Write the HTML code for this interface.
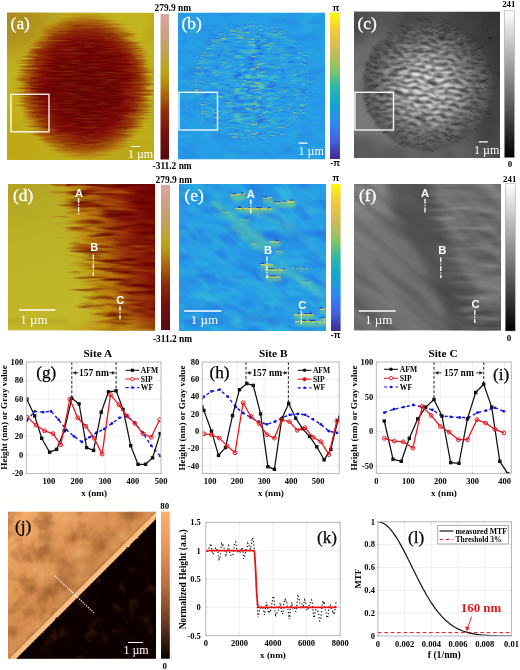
<!DOCTYPE html>
<html><head><meta charset="utf-8"><title>Figure</title>
<style>html,body{margin:0;padding:0;background:#fff}svg{display:block}</style>
</head><body>
<svg width="520" height="670" viewBox="0 0 520 670" font-family='"Liberation Serif", serif'>
<rect width="520" height="670" fill="#fff"/>
<defs>
<linearGradient id="cbAFM" x1="0" y1="0" x2="0" y2="1"><stop offset="0" stop-color="#dba79e"/><stop offset="0.14" stop-color="#cba084"/><stop offset="0.28" stop-color="#c2a052"/><stop offset="0.4" stop-color="#bba51a"/><stop offset="0.48" stop-color="#b48a12"/><stop offset="0.57" stop-color="#a85e0f"/><stop offset="0.68" stop-color="#8e2c0e"/><stop offset="0.82" stop-color="#74120f"/><stop offset="1" stop-color="#560a10"/></linearGradient>
<linearGradient id="cbPar" x1="0" y1="0" x2="0" y2="1"><stop offset="0" stop-color="#f9fb0e"/><stop offset="0.12" stop-color="#f5c93a"/><stop offset="0.25" stop-color="#d1ba58"/><stop offset="0.38" stop-color="#8cc566"/><stop offset="0.5" stop-color="#33b7a0"/><stop offset="0.62" stop-color="#12a7cf"/><stop offset="0.75" stop-color="#2e8af0"/><stop offset="0.88" stop-color="#4660e0"/><stop offset="1" stop-color="#3a2a90"/></linearGradient>
<linearGradient id="cbGray" x1="0" y1="0" x2="0" y2="1"><stop offset="0" stop-color="#ffffff"/><stop offset="1" stop-color="#000000"/></linearGradient>
<linearGradient id="cbCop" x1="0" y1="0" x2="0" y2="1"><stop offset="0" stop-color="#ffb070"/><stop offset="0.25" stop-color="#e8945c"/><stop offset="0.5" stop-color="#b87040"/><stop offset="0.75" stop-color="#6a3c20"/><stop offset="1" stop-color="#050201"/></linearGradient>
<clipPath id="cpa"><rect x="7" y="12.5" width="147" height="147.5"/></clipPath>
<clipPath id="cpb"><rect x="178" y="12.5" width="147" height="147"/></clipPath>
<clipPath id="cpc"><rect x="354" y="11.5" width="146" height="146.5"/></clipPath>
<clipPath id="cpd"><rect x="8" y="184" width="147" height="146.6"/></clipPath>
<clipPath id="cpe"><rect x="179" y="184" width="147" height="147"/></clipPath>
<clipPath id="cpf"><rect x="354" y="184" width="147" height="146.6"/></clipPath>
<clipPath id="cpj"><rect x="8" y="511.5" width="148" height="147.2"/></clipPath>
<linearGradient id="gaBase" x1="0" y1="0" x2="0.5" y2="1"><stop offset="0" stop-color="#b09018"/><stop offset="0.3" stop-color="#b7a214"/><stop offset="1" stop-color="#bcaa12"/></linearGradient>
<radialGradient id="gaCirc" cx="85.5" cy="86.5" r="77" gradientUnits="userSpaceOnUse" gradientTransform="translate(85.5 86.5) scale(0.93 1) translate(-85.5 -86.5)"><stop offset="0" stop-color="#690303"/><stop offset="0.5" stop-color="#720505"/><stop offset="0.64" stop-color="#820d07"/><stop offset="0.76" stop-color="#973509"/><stop offset="0.86" stop-color="#ab680f"/><stop offset="0.93" stop-color="#b89216" stop-opacity="0.75"/><stop offset="1" stop-color="#c2b41e" stop-opacity="0"/></radialGradient>
<filter id="fStreak" x="-15%" y="-15%" width="130%" height="130%" color-interpolation-filters="sRGB">
<feTurbulence type="fractalNoise" baseFrequency="0.035 0.5" numOctaves="2" seed="3" result="n"/>
<feColorMatrix in="n" type="matrix" values="1 0 0 0 0  0 0 0 0 0.5  0 0 0 0 0.5  0 0 0 1 0" result="nx"/>
<feDisplacementMap in="SourceGraphic" in2="nx" scale="22" xChannelSelector="R" yChannelSelector="G"/>
</filter>
<filter id="fStreakD" x="-15%" y="-15%" width="130%" height="130%" color-interpolation-filters="sRGB">
<feTurbulence type="fractalNoise" baseFrequency="0.018 0.22" numOctaves="2" seed="8" result="n"/>
<feColorMatrix in="n" type="matrix" values="1 0 0 0 0  0 0 0 0 0.5  0 0 0 0 0.5  0 0 0 1 0" result="nx"/>
<feDisplacementMap in="SourceGraphic" in2="nx" scale="46" xChannelSelector="R" yChannelSelector="G"/>
</filter>
<filter id="fStreakC" x="-15%" y="-15%" width="130%" height="130%" color-interpolation-filters="sRGB">
<feTurbulence type="fractalNoise" baseFrequency="0.05 0.3" numOctaves="2" seed="5" result="n"/>
<feColorMatrix in="n" type="matrix" values="1 0 0 0 0  0 0 0 0 0.5  0 0 0 0 0.5  0 0 0 1 0" result="nx"/>
<feDisplacementMap in="SourceGraphic" in2="nx" scale="8" xChannelSelector="R" yChannelSelector="G"/>
</filter>
<filter id="fTexA" x="0" y="0" width="100%" height="100%" color-interpolation-filters="sRGB">
<feTurbulence type="fractalNoise" baseFrequency="0.05 0.55" numOctaves="2" seed="11" result="n"/>
<feColorMatrix in="n" type="matrix" values="0 0 0 0 0.3  0 0 0 0 0.03  0 0 0 0 0.02  3.0 0 0 0 -1.3" result="t"/>
<feComposite in="t" in2="SourceGraphic" operator="in"/>
</filter>
<filter id="fTexA2" x="0" y="0" width="100%" height="100%" color-interpolation-filters="sRGB">
<feTurbulence type="fractalNoise" baseFrequency="0.05 0.55" numOctaves="2" seed="23" result="n"/>
<feColorMatrix in="n" type="matrix" values="0 0 0 0 0.78  0 0 0 0 0.5  0 0 0 0 0.08  3.0 0 0 0 -1.45" result="t"/>
<feComposite in="t" in2="SourceGraphic" operator="in"/>
</filter>
<filter id="fTexBg" x="0" y="0" width="100%" height="100%" color-interpolation-filters="sRGB">
<feTurbulence type="fractalNoise" baseFrequency="0.02 0.02" numOctaves="2" seed="4" result="n"/>
<feColorMatrix in="n" type="matrix" values="0 0 0 0 0.55  0 0 0 0 0.4  0 0 0 0 0.05  2.2 0 0 0 -1.0" result="t"/>
<feComposite in="t" in2="SourceGraphic" operator="in"/>
</filter>
<filter id="fTexCd" x="0" y="0" width="100%" height="100%" color-interpolation-filters="sRGB">
<feTurbulence type="fractalNoise" baseFrequency="0.1 0.34" numOctaves="2" seed="31" result="n"/>
<feColorMatrix in="n" type="matrix" values="0 0 0 0 0.12  0 0 0 0 0.12  0 0 0 0 0.12  5.5 0 0 0 -2.6" result="t"/>
<feComposite in="t" in2="SourceGraphic" operator="in"/>
</filter>
<filter id="fTexCl" x="0" y="0" width="100%" height="100%" color-interpolation-filters="sRGB">
<feTurbulence type="fractalNoise" baseFrequency="0.1 0.34" numOctaves="2" seed="31" result="n"/>
<feColorMatrix in="n" type="matrix" values="0 0 0 0 0.93  0 0 0 0 0.93  0 0 0 0 0.93  -5.5 0 0 0 2.35" result="t"/>
<feComposite in="t" in2="SourceGraphic" operator="in"/>
</filter>
<filter id="fTexCbg" x="0" y="0" width="100%" height="100%" color-interpolation-filters="sRGB">
<feTurbulence type="fractalNoise" baseFrequency="0.03 0.03" numOctaves="2" seed="9" result="n"/>
<feColorMatrix in="n" type="matrix" values="0 0 0 0 0.1  0 0 0 0 0.1  0 0 0 0 0.1  2.0 0 0 0 -0.9" result="t"/>
<feComposite in="t" in2="SourceGraphic" operator="in"/>
</filter>
<filter id="fTexD" x="0" y="0" width="100%" height="100%" color-interpolation-filters="sRGB">
<feTurbulence type="fractalNoise" baseFrequency="0.03 0.24" numOctaves="2" seed="17" result="n"/>
<feColorMatrix in="n" type="matrix" values="0 0 0 0 0.38  0 0 0 0 0.02  0 0 0 0 0.02  3.6 0 0 0 -1.6" result="t"/>
<feComposite in="t" in2="SourceGraphic" operator="in"/>
</filter>
<filter id="fTexD2" x="0" y="0" width="100%" height="100%" color-interpolation-filters="sRGB">
<feTurbulence type="fractalNoise" baseFrequency="0.03 0.24" numOctaves="2" seed="29" result="n"/>
<feColorMatrix in="n" type="matrix" values="0 0 0 0 0.78  0 0 0 0 0.48  0 0 0 0 0.06  3.6 0 0 0 -1.8" result="t"/>
<feComposite in="t" in2="SourceGraphic" operator="in"/>
</filter>
<filter id="fTexD3" x="0" y="0" width="100%" height="100%" color-interpolation-filters="sRGB">
<feTurbulence type="fractalNoise" baseFrequency="0.03 0.24" numOctaves="2" seed="53" result="n"/>
<feColorMatrix in="n" type="matrix" values="0 0 0 0 0.52  0 0 0 0 0.12  0 0 0 0 0.03  3.6 0 0 0 -1.7" result="t"/>
<feComposite in="t" in2="SourceGraphic" operator="in"/>
</filter>
<filter id="fTexFd" x="0" y="0" width="100%" height="100%" color-interpolation-filters="sRGB">
<feTurbulence type="fractalNoise" baseFrequency="0.012 0.07" numOctaves="2" seed="13" result="n"/>
<feColorMatrix in="n" type="matrix" values="0 0 0 0 0.22  0 0 0 0 0.22  0 0 0 0 0.22  3.2 0 0 0 -1.45" result="t"/>
<feComposite in="t" in2="SourceGraphic" operator="in"/>
</filter>
<filter id="fTexFl" x="0" y="0" width="100%" height="100%" color-interpolation-filters="sRGB">
<feTurbulence type="fractalNoise" baseFrequency="0.012 0.07" numOctaves="2" seed="13" result="n"/>
<feColorMatrix in="n" type="matrix" values="0 0 0 0 0.72  0 0 0 0 0.72  0 0 0 0 0.72  -3.2 0 0 0 1.3" result="t"/>
<feComposite in="t" in2="SourceGraphic" operator="in"/>
</filter>
<filter id="fTexFh" x="0" y="0" width="100%" height="100%" color-interpolation-filters="sRGB">
<feTurbulence type="fractalNoise" baseFrequency="0.02 0.13" numOctaves="2" seed="27" result="n"/>
<feColorMatrix in="n" type="matrix" values="0 0 0 0 0.68  0 0 0 0 0.68  0 0 0 0 0.68  3.4 0 0 0 -1.55" result="t"/>
<feComposite in="t" in2="SourceGraphic" operator="in"/>
</filter>
<filter id="fTexFhd" x="0" y="0" width="100%" height="100%" color-interpolation-filters="sRGB">
<feTurbulence type="fractalNoise" baseFrequency="0.02 0.13" numOctaves="2" seed="27" result="n"/>
<feColorMatrix in="n" type="matrix" values="0 0 0 0 0.18  0 0 0 0 0.18  0 0 0 0 0.18  -3.4 0 0 0 1.4" result="t"/>
<feComposite in="t" in2="SourceGraphic" operator="in"/>
</filter>
<filter id="fTexE" x="0" y="0" width="100%" height="100%" color-interpolation-filters="sRGB">
<feTurbulence type="fractalNoise" baseFrequency="0.025 0.07" numOctaves="2" seed="6" result="n"/>
<feColorMatrix in="n" type="matrix" values="0 0 0 0 0.25  0 0 0 0 0.82  0 0 0 0 0.82  3.0 0 0 0 -1.45" result="t"/>
<feComposite in="t" in2="SourceGraphic" operator="in"/>
</filter>
<filter id="fTexEd" x="0" y="0" width="100%" height="100%" color-interpolation-filters="sRGB">
<feTurbulence type="fractalNoise" baseFrequency="0.025 0.07" numOctaves="2" seed="19" result="n"/>
<feColorMatrix in="n" type="matrix" values="0 0 0 0 0.14  0 0 0 0 0.36  0 0 0 0 0.88  3.0 0 0 0 -1.45" result="t"/>
<feComposite in="t" in2="SourceGraphic" operator="in"/>
</filter>
<filter id="fTexB1" x="0" y="0" width="100%" height="100%" color-interpolation-filters="sRGB">
<feTurbulence type="fractalNoise" baseFrequency="0.05 0.12" numOctaves="2" seed="61" result="n"/>
<feColorMatrix in="n" type="matrix" values="0 0 0 0 0.25  0 0 0 0 0.8  0 0 0 0 0.82  3.0 0 0 0 -1.5" result="t"/>
<feComposite in="t" in2="SourceGraphic" operator="in"/>
</filter>
<filter id="fTexB2" x="0" y="0" width="100%" height="100%" color-interpolation-filters="sRGB">
<feTurbulence type="fractalNoise" baseFrequency="0.05 0.12" numOctaves="2" seed="67" result="n"/>
<feColorMatrix in="n" type="matrix" values="0 0 0 0 0.16  0 0 0 0 0.4  0 0 0 0 0.9  3.0 0 0 0 -1.5" result="t"/>
<feComposite in="t" in2="SourceGraphic" operator="in"/>
</filter>
<filter id="fTexBl" x="0" y="0" width="100%" height="100%" color-interpolation-filters="sRGB">
<feTurbulence type="fractalNoise" baseFrequency="0.09 0.28" numOctaves="2" seed="41" result="n"/>
<feColorMatrix in="n" type="matrix" values="0 0 0 0 0.45  0 0 0 0 0.85  0 0 0 0 0.55  4.0 0 0 0 -2.1" result="t"/>
<feComposite in="t" in2="SourceGraphic" operator="in"/>
</filter>
<filter id="fTexBd" x="0" y="0" width="100%" height="100%" color-interpolation-filters="sRGB">
<feTurbulence type="fractalNoise" baseFrequency="0.09 0.28" numOctaves="2" seed="41" result="n"/>
<feColorMatrix in="n" type="matrix" values="0 0 0 0 0.18  0 0 0 0 0.32  0 0 0 0 0.88  -4.0 0 0 0 1.55" result="t"/>
<feComposite in="t" in2="SourceGraphic" operator="in"/>
</filter>
<filter id="fTexJd" x="0" y="0" width="100%" height="100%" color-interpolation-filters="sRGB">
<feTurbulence type="fractalNoise" baseFrequency="0.055 0.055" numOctaves="3" seed="2" result="n"/>
<feColorMatrix in="n" type="matrix" values="0 0 0 0 0.5  0 0 0 0 0.26  0 0 0 0 0.1  2.8 0 0 0 -1.25" result="t"/>
<feComposite in="t" in2="SourceGraphic" operator="in"/>
</filter>
<filter id="fTexJl" x="0" y="0" width="100%" height="100%" color-interpolation-filters="sRGB">
<feTurbulence type="fractalNoise" baseFrequency="0.055 0.055" numOctaves="3" seed="2" result="n"/>
<feColorMatrix in="n" type="matrix" values="0 0 0 0 1.0  0 0 0 0 0.8  0 0 0 0 0.58  -2.8 0 0 0 1.1" result="t"/>
<feComposite in="t" in2="SourceGraphic" operator="in"/>
</filter>
<filter id="fTexJk" x="0" y="0" width="100%" height="100%" color-interpolation-filters="sRGB">
<feTurbulence type="fractalNoise" baseFrequency="0.07 0.07" numOctaves="3" seed="14" result="n"/>
<feColorMatrix in="n" type="matrix" values="0 0 0 0 0.36  0 0 0 0 0.18  0 0 0 0 0.08  3.2 0 0 0 -1.75" result="t"/>
<feComposite in="t" in2="SourceGraphic" operator="in"/>
</filter>
<filter id="bl0_5" x="-30%" y="-30%" width="160%" height="160%"><feGaussianBlur stdDeviation="0.5"/></filter>
<filter id="bl0_7" x="-30%" y="-30%" width="160%" height="160%"><feGaussianBlur stdDeviation="0.7"/></filter>
<filter id="bl1" x="-30%" y="-30%" width="160%" height="160%"><feGaussianBlur stdDeviation="1"/></filter>
<filter id="bl1_5" x="-30%" y="-30%" width="160%" height="160%"><feGaussianBlur stdDeviation="1.5"/></filter>
<filter id="bl2" x="-30%" y="-30%" width="160%" height="160%"><feGaussianBlur stdDeviation="2"/></filter>
<filter id="bl3" x="-30%" y="-30%" width="160%" height="160%"><feGaussianBlur stdDeviation="3"/></filter>
<filter id="bl4" x="-30%" y="-30%" width="160%" height="160%"><feGaussianBlur stdDeviation="4"/></filter>
<filter id="bl6" x="-30%" y="-30%" width="160%" height="160%"><feGaussianBlur stdDeviation="6"/></filter>
<filter id="bl8" x="-30%" y="-30%" width="160%" height="160%"><feGaussianBlur stdDeviation="8"/></filter>
<filter id="bl12" x="-30%" y="-30%" width="160%" height="160%"><feGaussianBlur stdDeviation="12"/></filter>
<linearGradient id="gcBase" x1="0" y1="0.6" x2="1" y2="0.1"><stop offset="0" stop-color="#787878"/><stop offset="0.3" stop-color="#6c6c6c"/><stop offset="0.6" stop-color="#525252"/><stop offset="1" stop-color="#343434"/></linearGradient>
<radialGradient id="gcCirc" cx="427" cy="86" r="66" gradientUnits="userSpaceOnUse"><stop offset="0" stop-color="#acacac"/><stop offset="0.35" stop-color="#9c9c9c"/><stop offset="0.62" stop-color="#848484"/><stop offset="0.85" stop-color="#6c6c6c"/><stop offset="0.95" stop-color="#525252"/><stop offset="1" stop-color="#484848" stop-opacity="0.0"/></radialGradient>
<linearGradient id="gdBase" x1="0" y1="0" x2="0.3" y2="1"><stop offset="0" stop-color="#b2a324"/><stop offset="0.4" stop-color="#bcb226"/><stop offset="1" stop-color="#c3b828"/></linearGradient>
<linearGradient id="gdGrad" gradientUnits="userSpaceOnUse" x1="66" y1="257" x2="166" y2="229"><stop offset="0" stop-color="#bcb226" stop-opacity="0"/><stop offset="0.18" stop-color="#bd9e16"/><stop offset="0.36" stop-color="#b4740f"/><stop offset="0.54" stop-color="#9a380b"/><stop offset="0.72" stop-color="#841507"/><stop offset="1" stop-color="#740906"/></linearGradient>
<linearGradient id="gdDark" x1="0" y1="0" x2="1" y2="0"><stop offset="0" stop-color="#b2700f"/><stop offset="0.18" stop-color="#a5500d"/><stop offset="0.45" stop-color="#93300c"/><stop offset="0.8" stop-color="#84200b"/><stop offset="1" stop-color="#7e1a0a"/></linearGradient>
<linearGradient id="gdDarkV" x1="0" y1="0" x2="0" y2="1"><stop offset="0" stop-color="#7a1508" stop-opacity="0.35"/><stop offset="0.5" stop-color="#7a1508" stop-opacity="0.0"/><stop offset="1" stop-color="#c08a14" stop-opacity="0.55"/></linearGradient>
<linearGradient id="gfBase" x1="0" y1="0" x2="1" y2="0.4"><stop offset="0" stop-color="#7c7c7c"/><stop offset="0.5" stop-color="#727272"/><stop offset="1" stop-color="#6a6a6a"/></linearGradient>
<linearGradient id="gjCop" x1="0" y1="0" x2="0.7" y2="0.7"><stop offset="0" stop-color="#f4aa6a"/><stop offset="0.3" stop-color="#e69e5e"/><stop offset="0.6" stop-color="#d48c4e"/><stop offset="1" stop-color="#e09a5a"/></linearGradient>
<filter id="fRough" x="-5%" y="-5%" width="110%" height="110%"><feTurbulence type="fractalNoise" baseFrequency="0.12" numOctaves="2" seed="4" result="n"/><feDisplacementMap in="SourceGraphic" in2="n" scale="2.2" xChannelSelector="R" yChannelSelector="G"/></filter>
<pattern id="pRipD" patternUnits="userSpaceOnUse" width="13" height="11.2" patternTransform="rotate(9 428 84)"><ellipse cx="3.5" cy="1.6" rx="5.6" ry="1.2" fill="#141414"/><ellipse cx="16.5" cy="1.6" rx="5.6" ry="1.2" fill="#141414"/><ellipse cx="-9.5" cy="1.6" rx="5.6" ry="1.2" fill="#141414"/><ellipse cx="10" cy="7.2" rx="5.6" ry="1.2" fill="#141414"/><ellipse cx="-3" cy="7.2" rx="5.6" ry="1.2" fill="#141414"/><ellipse cx="23" cy="7.2" rx="5.6" ry="1.2" fill="#141414"/></pattern>
<pattern id="pRipL" patternUnits="userSpaceOnUse" width="13" height="11.2" patternTransform="rotate(9 428 84)"><ellipse cx="4.3" cy="4.2" rx="5" ry="1.5" fill="#f4f4f4"/><ellipse cx="17.3" cy="4.2" rx="5" ry="1.5" fill="#f4f4f4"/><ellipse cx="-8.7" cy="4.2" rx="5" ry="1.5" fill="#f4f4f4"/><ellipse cx="10.8" cy="9.8" rx="5" ry="1.5" fill="#f4f4f4"/><ellipse cx="-2.2" cy="9.8" rx="5" ry="1.5" fill="#f4f4f4"/><ellipse cx="23.8" cy="9.8" rx="5" ry="1.5" fill="#f4f4f4"/></pattern>
<radialGradient id="gcMaskL" cx="426" cy="88" r="52" gradientUnits="userSpaceOnUse"><stop offset="0" stop-color="#fff" stop-opacity="0.95"/><stop offset="0.4" stop-color="#fff" stop-opacity="0.8"/><stop offset="0.7" stop-color="#fff" stop-opacity="0.35"/><stop offset="1" stop-color="#fff" stop-opacity="0"/></radialGradient>
<mask id="mRipL" maskUnits="userSpaceOnUse" x="354" y="11" width="147" height="148"><circle cx="426" cy="88" r="52" fill="url(#gcMaskL)"/></mask>
<radialGradient id="gcMask" cx="428.5" cy="84.5" r="62" gradientUnits="userSpaceOnUse"><stop offset="0" stop-color="#fff" stop-opacity="0.7"/><stop offset="0.45" stop-color="#fff" stop-opacity="0.68"/><stop offset="0.8" stop-color="#fff" stop-opacity="0.6"/><stop offset="0.95" stop-color="#fff" stop-opacity="0.3"/><stop offset="1" stop-color="#fff" stop-opacity="0"/></radialGradient>
<mask id="mRip" maskUnits="userSpaceOnUse" x="354" y="11" width="147" height="148"><circle cx="428.5" cy="84.5" r="62" fill="url(#gcMask)"/></mask>
<filter id="fWob" x="-10%" y="-10%" width="120%" height="120%" color-interpolation-filters="sRGB">
<feTurbulence type="fractalNoise" baseFrequency="0.045 0.06" numOctaves="2" seed="12" result="n"/>
<feDisplacementMap in="SourceGraphic" in2="n" scale="12" xChannelSelector="R" yChannelSelector="G" result="d"/>
<feGaussianBlur in="d" stdDeviation="0.85"/>
</filter>
</defs>
<g clip-path="url(#cpa)">
<rect x="7" y="12.5" width="147" height="147.5" fill="#c2b41e"/>
<ellipse cx="14" cy="22" rx="46" ry="34" fill="#ab8420" opacity="0.65" filter="url(#bl12)"/>
<ellipse cx="10" cy="150" rx="40" ry="30" fill="#bc9c10" opacity="0.55" filter="url(#bl12)"/>
<ellipse cx="150" cy="150" rx="30" ry="24" fill="#b8a216" opacity="0.4" filter="url(#bl12)"/>
<rect x="7" y="12.5" width="147" height="147.5" fill="#000" filter="url(#fTexBg)" opacity="0.25"/>
<g filter="url(#fStreak)"><ellipse cx="85.5" cy="86.5" rx="72" ry="77" fill="url(#gaCirc)"/></g>
<ellipse cx="85.5" cy="86.5" rx="56" ry="63" fill="#000" filter="url(#fTexA)" opacity="0.3"/>
<g filter="url(#fStreak)"><ellipse cx="85.5" cy="86.5" rx="63" ry="68" fill="#000" filter="url(#fTexA2)" opacity="0.25"/></g>
</g>
<g clip-path="url(#cpb)">
<rect x="178" y="12.5" width="147" height="147" fill="#269de6"/>
<rect x="178" y="12.5" width="147" height="147" fill="#000" filter="url(#fTexB1)" opacity="0.28"/>
<rect x="178" y="12.5" width="147" height="147" fill="#000" filter="url(#fTexB2)" opacity="0.30"/>
<g filter="url(#fTexBl)" opacity="0.35"><circle cx="252" cy="82" r="56" fill="#000" filter="url(#bl3)"/></g>
<g filter="url(#fTexBd)" opacity="0.6"><circle cx="252" cy="82" r="56" fill="#000" filter="url(#bl3)"/></g>
<g filter="url(#fTexBl)" opacity="0.45"><ellipse cx="252" cy="84" rx="22" ry="52" fill="#000" filter="url(#bl6)"/></g>
<g filter="url(#fTexBd)" opacity="0.55"><ellipse cx="252" cy="84" rx="24" ry="52" fill="#000" filter="url(#bl6)"/></g>
<circle cx="252" cy="82" r="58" fill="none" stroke="#2f7fe0" stroke-width="1.4" opacity="0.45" filter="url(#bl0_7)" stroke-dasharray="5 2 3 3 7 2"/>
<circle cx="252" cy="82" r="56.5" fill="none" stroke="#45b8d4" stroke-width="1.1" opacity="0.45" filter="url(#bl0_7)" stroke-dasharray="4 3 6 2 3 4"/>
<g stroke-linecap="round" filter="url(#bl0_5)"><path d="M243.6 80.6l2.8 0.1" stroke="#7fd08a" stroke-width="1.0" opacity="0.77"/><path d="M243.7 79.3l2.8 0.1" stroke="#2f6be2" stroke-width="1.1" opacity="0.69"/><path d="M230.9 33.9l4.8 -0.5" stroke="#8fd06a" stroke-width="1.2" opacity="0.49"/><path d="M231.9 32.6l4.8 -0.5" stroke="#3656d6" stroke-width="1.2" opacity="0.44"/><path d="M243.1 39.2l5.3 -0.6" stroke="#8fd06a" stroke-width="1.0" opacity="0.63"/><path d="M243.9 37.9l4.7 -0.6" stroke="#2d7ce6" stroke-width="1.3" opacity="0.57"/><path d="M268.5 43.2l4.3 0.1" stroke="#8fd06a" stroke-width="1.4" opacity="0.60"/><path d="M267.9 41.9l4.7 0.1" stroke="#2d7ce6" stroke-width="1.3" opacity="0.54"/><path d="M261.0 109.2l2.4 0.1" stroke="#62d0b2" stroke-width="1.1" opacity="0.67"/><path d="M260.3 107.9l2.2 0.1" stroke="#3656d6" stroke-width="1.1" opacity="0.60"/><path d="M212.9 70.1l2.1 -0.0" stroke="#4cc4d6" stroke-width="0.9" opacity="0.33"/><path d="M212.0 68.8l2.0 -0.0" stroke="#2d7ce6" stroke-width="1.0" opacity="0.30"/><path d="M258.3 97.0l2.6 -0.4" stroke="#c8d248" stroke-width="1.1" opacity="0.60"/><path d="M258.5 95.7l2.2 -0.4" stroke="#2f6be2" stroke-width="1.0" opacity="0.54"/><path d="M215.5 74.9l2.6 -0.2" stroke="#5fd0b0" stroke-width="1.5" opacity="0.31"/><path d="M215.3 73.6l2.8 -0.2" stroke="#2d7ce6" stroke-width="1.2" opacity="0.28"/><path d="M251.0 68.8l2.9 -0.6" stroke="#8fd06a" stroke-width="1.2" opacity="0.85"/><path d="M250.8 67.5l2.9 -0.6" stroke="#2f6be2" stroke-width="1.3" opacity="0.77"/><path d="M286.2 55.4l3.0 -0.6" stroke="#8fd06a" stroke-width="1.4" opacity="0.43"/><path d="M286.4 54.1l2.3 -0.6" stroke="#2f6be2" stroke-width="1.3" opacity="0.39"/><path d="M251.4 85.9l4.6 -0.6" stroke="#c8d248" stroke-width="1.4" opacity="0.60"/><path d="M252.2 84.6l4.3 -0.6" stroke="#3656d6" stroke-width="1.1" opacity="0.54"/><path d="M249.4 41.8l4.1 -0.0" stroke="#4cc4d6" stroke-width="1.3" opacity="0.62"/><path d="M250.3 40.5l2.9 -0.0" stroke="#2d7ce6" stroke-width="1.1" opacity="0.56"/><path d="M241.1 118.6l2.5 -0.4" stroke="#62d0b2" stroke-width="0.9" opacity="0.55"/><path d="M241.0 117.3l1.9 -0.4" stroke="#2f6be2" stroke-width="1.2" opacity="0.49"/><path d="M227.6 87.4l3.1 -0.6" stroke="#62d0b2" stroke-width="1.0" opacity="0.54"/><path d="M228.3 86.1l2.4 -0.6" stroke="#2d7ce6" stroke-width="1.2" opacity="0.49"/><path d="M244.1 114.3l4.8 -0.3" stroke="#8fd06a" stroke-width="1.1" opacity="0.53"/><path d="M244.2 113.0l5.0 -0.3" stroke="#2f6be2" stroke-width="1.0" opacity="0.48"/><path d="M231.1 30.8l3.4 0.2" stroke="#c8d248" stroke-width="1.4" opacity="0.51"/><path d="M231.7 29.5l3.0 0.2" stroke="#2d7ce6" stroke-width="0.9" opacity="0.46"/><path d="M252.9 109.7l5.4 -0.0" stroke="#7fd08a" stroke-width="1.4" opacity="0.69"/><path d="M252.3 108.4l5.1 -0.0" stroke="#3656d6" stroke-width="1.4" opacity="0.62"/><path d="M220.4 62.3l5.5 -0.7" stroke="#8fd06a" stroke-width="1.3" opacity="0.36"/><path d="M221.0 61.0l6.0 -0.7" stroke="#2d7ce6" stroke-width="1.2" opacity="0.33"/><path d="M241.4 85.0l3.4 -0.6" stroke="#8fd06a" stroke-width="1.3" opacity="0.63"/><path d="M240.5 83.7l2.7 -0.6" stroke="#2d7ce6" stroke-width="1.3" opacity="0.57"/><path d="M247.1 53.0l3.3 -0.1" stroke="#5fd0b0" stroke-width="1.0" opacity="0.70"/><path d="M247.0 51.7l3.0 -0.1" stroke="#2d7ce6" stroke-width="1.2" opacity="0.63"/><path d="M238.4 77.3l4.2 0.0" stroke="#7fd08a" stroke-width="1.3" opacity="0.67"/><path d="M238.7 76.0l3.4 0.0" stroke="#3656d6" stroke-width="1.1" opacity="0.60"/><path d="M245.0 89.1l2.3 0.2" stroke="#5fd0b0" stroke-width="1.3" opacity="0.63"/><path d="M246.0 87.8l2.5 0.2" stroke="#2f6be2" stroke-width="1.3" opacity="0.57"/><path d="M257.7 64.2l4.2 -0.5" stroke="#8fd06a" stroke-width="1.1" opacity="0.76"/><path d="M257.2 62.9l4.4 -0.5" stroke="#2f6be2" stroke-width="1.3" opacity="0.68"/><path d="M253.8 107.6l2.6 -0.4" stroke="#4cc4d6" stroke-width="1.3" opacity="0.70"/><path d="M253.3 106.3l2.0 -0.4" stroke="#3656d6" stroke-width="1.2" opacity="0.63"/><path d="M238.7 125.4l3.3 -0.2" stroke="#4cc4d6" stroke-width="1.3" opacity="0.51"/><path d="M239.1 124.1l2.6 -0.2" stroke="#2f6be2" stroke-width="1.4" opacity="0.46"/><path d="M251.1 44.9l4.0 -0.3" stroke="#8fd06a" stroke-width="1.1" opacity="0.87"/><path d="M251.0 43.6l4.2 -0.3" stroke="#2f6be2" stroke-width="1.0" opacity="0.78"/><path d="M198.0 92.4l2.3 0.0" stroke="#5fd0b0" stroke-width="1.0" opacity="0.57"/><path d="M197.1 91.1l2.3 0.0" stroke="#2d7ce6" stroke-width="1.2" opacity="0.51"/><path d="M252.9 103.4l4.4 -0.6" stroke="#c8d248" stroke-width="1.1" opacity="0.64"/><path d="M253.2 102.1l4.6 -0.6" stroke="#2f6be2" stroke-width="1.2" opacity="0.57"/><path d="M276.5 67.1l3.2 -0.2" stroke="#c8d248" stroke-width="1.3" opacity="0.44"/><path d="M276.8 65.8l2.5 -0.2" stroke="#2f6be2" stroke-width="1.0" opacity="0.39"/><path d="M269.4 54.5l2.7 0.2" stroke="#4cc4d6" stroke-width="0.9" opacity="0.51"/><path d="M270.0 53.2l2.1 0.2" stroke="#2f6be2" stroke-width="1.3" opacity="0.46"/><path d="M266.9 99.3l2.1 -0.3" stroke="#4cc4d6" stroke-width="1.4" opacity="0.58"/><path d="M267.7 98.0l2.0 -0.3" stroke="#2f6be2" stroke-width="1.2" opacity="0.52"/><path d="M265.0 94.8l2.4 -0.6" stroke="#4cc4d6" stroke-width="1.5" opacity="0.58"/><path d="M265.6 93.5l1.7 -0.6" stroke="#3656d6" stroke-width="1.0" opacity="0.52"/><path d="M267.4 111.3l2.6 -0.2" stroke="#4cc4d6" stroke-width="1.0" opacity="0.76"/><path d="M268.3 110.0l2.4 -0.2" stroke="#3656d6" stroke-width="1.3" opacity="0.68"/><path d="M236.6 35.4l3.4 -0.2" stroke="#c8d248" stroke-width="1.2" opacity="0.52"/><path d="M237.6 34.1l3.6 -0.2" stroke="#2d7ce6" stroke-width="1.3" opacity="0.47"/><path d="M278.9 110.6l2.7 -0.4" stroke="#7fd08a" stroke-width="1.1" opacity="0.53"/><path d="M278.2 109.3l2.6 -0.4" stroke="#2d7ce6" stroke-width="1.2" opacity="0.48"/><path d="M280.2 100.2l2.9 -0.4" stroke="#4cc4d6" stroke-width="1.2" opacity="0.49"/><path d="M279.2 98.9l3.0 -0.4" stroke="#2f6be2" stroke-width="0.9" opacity="0.44"/><path d="M261.7 117.5l4.6 0.3" stroke="#4cc4d6" stroke-width="1.0" opacity="0.74"/><path d="M260.7 116.2l4.6 0.3" stroke="#2d7ce6" stroke-width="1.0" opacity="0.66"/><path d="M247.3 81.4l5.0 0.0" stroke="#5fd0b0" stroke-width="0.9" opacity="0.73"/><path d="M247.0 80.1l5.2 0.0" stroke="#3656d6" stroke-width="1.1" opacity="0.65"/><path d="M254.4 90.1l3.6 -0.7" stroke="#c8d248" stroke-width="1.4" opacity="0.79"/><path d="M254.2 88.8l2.9 -0.7" stroke="#3656d6" stroke-width="1.3" opacity="0.72"/><path d="M218.3 122.6l5.1 -0.5" stroke="#5fd0b0" stroke-width="1.0" opacity="0.33"/><path d="M218.8 121.3l5.5 -0.5" stroke="#2f6be2" stroke-width="1.2" opacity="0.30"/><path d="M254.2 82.7l4.5 -0.0" stroke="#c8d248" stroke-width="1.5" opacity="0.65"/><path d="M254.2 81.4l3.2 -0.0" stroke="#2f6be2" stroke-width="1.0" opacity="0.58"/><path d="M262.7 120.0l2.2 -0.1" stroke="#7fd08a" stroke-width="0.9" opacity="0.74"/><path d="M263.1 118.7l2.1 -0.1" stroke="#3656d6" stroke-width="1.1" opacity="0.66"/><path d="M235.8 28.4l5.3 -0.4" stroke="#4cc4d6" stroke-width="1.3" opacity="0.50"/><path d="M235.7 27.1l4.8 -0.4" stroke="#2f6be2" stroke-width="1.1" opacity="0.45"/><path d="M246.9 123.2l5.1 0.1" stroke="#7fd08a" stroke-width="1.3" opacity="0.81"/><path d="M246.6 121.9l3.9 0.1" stroke="#2f6be2" stroke-width="1.3" opacity="0.73"/><path d="M246.7 31.5l2.7 -0.1" stroke="#62d0b2" stroke-width="1.0" opacity="0.60"/><path d="M246.0 30.2l2.4 -0.1" stroke="#2f6be2" stroke-width="1.2" opacity="0.54"/><path d="M261.8 40.1l4.5 -0.8" stroke="#62d0b2" stroke-width="1.0" opacity="0.58"/><path d="M262.0 38.8l3.6 -0.8" stroke="#3656d6" stroke-width="1.2" opacity="0.52"/><path d="M254.3 101.6l2.0 -0.5" stroke="#5fd0b0" stroke-width="1.1" opacity="0.67"/><path d="M254.9 100.3l1.5 -0.5" stroke="#3656d6" stroke-width="0.9" opacity="0.60"/><path d="M258.4 30.3l4.2 -0.5" stroke="#4cc4d6" stroke-width="1.3" opacity="0.78"/><path d="M258.4 29.0l3.2 -0.5" stroke="#3656d6" stroke-width="1.1" opacity="0.70"/><path d="M234.8 56.1l5.2 -0.7" stroke="#7fd08a" stroke-width="1.0" opacity="0.54"/><path d="M234.4 54.8l5.3 -0.7" stroke="#2d7ce6" stroke-width="1.0" opacity="0.49"/><path d="M270.0 76.5l2.8 0.2" stroke="#4cc4d6" stroke-width="1.2" opacity="0.56"/><path d="M269.2 75.2l3.1 0.2" stroke="#2f6be2" stroke-width="1.2" opacity="0.50"/><path d="M267.3 48.6l3.7 -0.4" stroke="#62d0b2" stroke-width="1.4" opacity="0.56"/><path d="M266.3 47.3l3.4 -0.4" stroke="#2f6be2" stroke-width="0.9" opacity="0.50"/><path d="M261.8 102.0l2.8 -0.3" stroke="#5fd0b0" stroke-width="1.1" opacity="0.71"/><path d="M262.5 100.7l2.2 -0.3" stroke="#2d7ce6" stroke-width="1.2" opacity="0.64"/><path d="M273.5 80.7l3.1 0.1" stroke="#62d0b2" stroke-width="1.1" opacity="0.68"/><path d="M274.0 79.4l3.1 0.1" stroke="#2d7ce6" stroke-width="1.4" opacity="0.62"/><path d="M241.3 69.3l5.4 -0.4" stroke="#5fd0b0" stroke-width="1.2" opacity="0.56"/><path d="M242.2 68.0l4.3 -0.4" stroke="#2d7ce6" stroke-width="1.3" opacity="0.50"/><path d="M254.6 50.0l3.3 -0.1" stroke="#5fd0b0" stroke-width="1.2" opacity="0.63"/><path d="M255.5 48.7l3.2 -0.1" stroke="#3656d6" stroke-width="1.1" opacity="0.57"/><path d="M282.2 85.2l2.2 0.0" stroke="#62d0b2" stroke-width="1.2" opacity="0.55"/><path d="M282.8 83.9l1.6 0.0" stroke="#2d7ce6" stroke-width="1.1" opacity="0.50"/><path d="M254.5 92.5l4.3 -0.5" stroke="#4cc4d6" stroke-width="1.5" opacity="0.84"/><path d="M254.6 91.2l3.5 -0.5" stroke="#2f6be2" stroke-width="1.3" opacity="0.76"/><path d="M231.0 106.0l5.0 -0.4" stroke="#5fd0b0" stroke-width="1.1" opacity="0.46"/><path d="M231.3 104.7l5.1 -0.4" stroke="#3656d6" stroke-width="1.3" opacity="0.41"/><path d="M256.7 116.0l4.4 -0.8" stroke="#8fd06a" stroke-width="1.0" opacity="0.71"/><path d="M256.8 114.7l4.1 -0.8" stroke="#2f6be2" stroke-width="1.3" opacity="0.64"/><path d="M214.9 112.7l2.3 -0.5" stroke="#c8d248" stroke-width="1.1" opacity="0.58"/><path d="M215.4 111.4l2.0 -0.5" stroke="#3656d6" stroke-width="1.3" opacity="0.52"/><path d="M223.3 62.6l3.1 0.2" stroke="#8fd06a" stroke-width="1.3" opacity="0.48"/><path d="M224.1 61.3l2.7 0.2" stroke="#2d7ce6" stroke-width="1.2" opacity="0.44"/><path d="M216.9 96.2l5.4 0.2" stroke="#8fd06a" stroke-width="1.4" opacity="0.56"/><path d="M217.0 94.9l5.8 0.2" stroke="#2f6be2" stroke-width="1.3" opacity="0.51"/><path d="M306.6 85.4l4.5 0.2" stroke="#4cc4d6" stroke-width="1.0" opacity="0.30"/><path d="M306.5 84.1l4.9 0.2" stroke="#3656d6" stroke-width="1.3" opacity="0.27"/><path d="M251.1 56.2l4.0 0.3" stroke="#c8d248" stroke-width="0.9" opacity="0.78"/><path d="M251.9 54.9l3.0 0.3" stroke="#3656d6" stroke-width="1.2" opacity="0.71"/><path d="M253.9 110.9l3.3 0.2" stroke="#5fd0b0" stroke-width="1.0" opacity="0.74"/><path d="M253.4 109.6l2.8 0.2" stroke="#3656d6" stroke-width="1.2" opacity="0.66"/><path d="M236.1 88.8l3.0 -0.2" stroke="#c8d248" stroke-width="1.3" opacity="0.52"/><path d="M236.6 87.5l2.7 -0.2" stroke="#2f6be2" stroke-width="1.2" opacity="0.47"/><path d="M225.6 102.6l5.4 0.2" stroke="#8fd06a" stroke-width="1.5" opacity="0.53"/><path d="M225.0 101.3l5.6 0.2" stroke="#3656d6" stroke-width="1.1" opacity="0.48"/><path d="M252.1 124.7l4.3 -0.7" stroke="#c8d248" stroke-width="1.2" opacity="0.79"/><path d="M251.2 123.4l4.7 -0.7" stroke="#2f6be2" stroke-width="1.2" opacity="0.71"/><path d="M264.3 89.2l5.4 -0.5" stroke="#4cc4d6" stroke-width="1.3" opacity="0.73"/><path d="M265.3 87.9l5.6 -0.5" stroke="#3656d6" stroke-width="1.0" opacity="0.66"/><path d="M244.3 27.7l3.0 -0.6" stroke="#5fd0b0" stroke-width="1.3" opacity="0.65"/><path d="M243.8 26.4l3.0 -0.6" stroke="#2d7ce6" stroke-width="1.3" opacity="0.58"/><path d="M234.5 68.6l3.2 -0.7" stroke="#5fd0b0" stroke-width="1.0" opacity="0.58"/><path d="M235.3 67.3l3.3 -0.7" stroke="#2f6be2" stroke-width="1.1" opacity="0.52"/><path d="M221.4 113.9l2.6 -0.0" stroke="#5fd0b0" stroke-width="1.3" opacity="0.52"/><path d="M220.4 112.6l1.9 -0.0" stroke="#2d7ce6" stroke-width="1.1" opacity="0.46"/><path d="M263.3 45.2l3.4 -0.3" stroke="#8fd06a" stroke-width="1.5" opacity="0.75"/><path d="M262.6 43.9l3.6 -0.3" stroke="#3656d6" stroke-width="1.2" opacity="0.67"/><path d="M218.2 65.1l4.4 -0.2" stroke="#62d0b2" stroke-width="1.0" opacity="0.37"/><path d="M219.2 63.8l3.1 -0.2" stroke="#3656d6" stroke-width="1.3" opacity="0.33"/><path d="M275.3 71.7l4.6 0.1" stroke="#4cc4d6" stroke-width="0.9" opacity="0.48"/><path d="M275.9 70.4l4.9 0.1" stroke="#2d7ce6" stroke-width="1.0" opacity="0.43"/><path d="M238.0 37.6l3.4 0.1" stroke="#c8d248" stroke-width="1.4" opacity="0.68"/><path d="M238.6 36.3l2.9 0.1" stroke="#2d7ce6" stroke-width="1.4" opacity="0.61"/><path d="M279.0 91.5l2.8 -0.2" stroke="#7fd08a" stroke-width="1.2" opacity="0.45"/><path d="M279.5 90.2l3.0 -0.2" stroke="#3656d6" stroke-width="1.1" opacity="0.40"/><path d="M252.1 133.8l5.2 -0.4" stroke="#c8d248" stroke-width="1.4" opacity="0.66"/><path d="M251.7 132.5l4.5 -0.4" stroke="#2d7ce6" stroke-width="0.9" opacity="0.59"/><path d="M234.1 133.9l3.6 0.3" stroke="#c8d248" stroke-width="1.1" opacity="0.68"/><path d="M234.1 132.6l2.7 0.3" stroke="#2f6be2" stroke-width="1.0" opacity="0.62"/><path d="M204.6 68.4l3.4 0.2" stroke="#4cc4d6" stroke-width="1.2" opacity="0.46"/><path d="M205.4 67.1l3.4 0.2" stroke="#2f6be2" stroke-width="0.9" opacity="0.42"/><path d="M217.4 116.8l2.8 -0.8" stroke="#5fd0b0" stroke-width="1.3" opacity="0.55"/><path d="M216.5 115.5l2.6 -0.8" stroke="#2d7ce6" stroke-width="1.2" opacity="0.49"/><path d="M222.0 38.6l3.4 0.1" stroke="#c8d248" stroke-width="1.4" opacity="0.59"/><path d="M222.6 37.3l2.4 0.1" stroke="#2f6be2" stroke-width="1.4" opacity="0.54"/><path d="M243.4 33.0l5.4 -0.5" stroke="#8fd06a" stroke-width="1.2" opacity="0.75"/><path d="M242.6 31.7l5.9 -0.5" stroke="#2d7ce6" stroke-width="1.4" opacity="0.67"/><path d="M268.8 112.2l2.3 0.1" stroke="#5fd0b0" stroke-width="0.9" opacity="0.71"/><path d="M269.3 110.9l1.9 0.1" stroke="#2d7ce6" stroke-width="0.9" opacity="0.64"/><path d="M296.3 90.9l4.9 -0.6" stroke="#7fd08a" stroke-width="1.2" opacity="0.45"/><path d="M296.9 89.6l5.3 -0.6" stroke="#3656d6" stroke-width="1.1" opacity="0.41"/><path d="M205.8 85.8l3.3 0.2" stroke="#8fd06a" stroke-width="1.2" opacity="0.44"/><path d="M206.0 84.5l3.5 0.2" stroke="#2f6be2" stroke-width="1.2" opacity="0.40"/><path d="M275.3 98.4l3.4 -0.8" stroke="#8fd06a" stroke-width="1.2" opacity="0.57"/><path d="M274.8 97.1l3.6 -0.8" stroke="#2f6be2" stroke-width="1.0" opacity="0.52"/><path d="M229.4 120.7l2.7 -0.3" stroke="#8fd06a" stroke-width="1.4" opacity="0.52"/><path d="M228.6 119.4l2.3 -0.3" stroke="#3656d6" stroke-width="1.2" opacity="0.46"/><path d="M255.1 67.0l3.3 -0.1" stroke="#c8d248" stroke-width="1.4" opacity="0.83"/><path d="M254.2 65.7l3.3 -0.1" stroke="#2f6be2" stroke-width="1.2" opacity="0.75"/><path d="M260.7 72.4l4.3 -0.6" stroke="#8fd06a" stroke-width="1.3" opacity="0.62"/><path d="M259.8 71.1l3.0 -0.6" stroke="#3656d6" stroke-width="1.0" opacity="0.56"/><path d="M246.8 85.9l4.9 -0.3" stroke="#5fd0b0" stroke-width="1.0" opacity="0.71"/><path d="M246.8 84.6l5.4 -0.3" stroke="#2d7ce6" stroke-width="0.9" opacity="0.64"/><path d="M293.8 74.6l2.9 -0.5" stroke="#8fd06a" stroke-width="1.1" opacity="0.58"/><path d="M293.5 73.3l3.0 -0.5" stroke="#2f6be2" stroke-width="0.9" opacity="0.52"/><path d="M237.1 109.0l3.2 -0.0" stroke="#4cc4d6" stroke-width="1.1" opacity="0.52"/><path d="M237.7 107.7l2.5 -0.0" stroke="#2d7ce6" stroke-width="1.2" opacity="0.47"/><path d="M287.1 108.3l3.7 -0.4" stroke="#8fd06a" stroke-width="1.1" opacity="0.48"/><path d="M286.4 107.0l3.3 -0.4" stroke="#2d7ce6" stroke-width="1.3" opacity="0.43"/><path d="M251.4 69.1l4.0 -0.2" stroke="#c8d248" stroke-width="1.1" opacity="0.84"/><path d="M251.7 67.8l4.1 -0.2" stroke="#2d7ce6" stroke-width="1.2" opacity="0.76"/><path d="M252.7 76.9l4.8 -0.0" stroke="#5fd0b0" stroke-width="0.9" opacity="0.84"/><path d="M252.1 75.6l4.7 -0.0" stroke="#3656d6" stroke-width="0.9" opacity="0.76"/><path d="M240.5 96.9l2.3 -0.7" stroke="#5fd0b0" stroke-width="1.2" opacity="0.51"/><path d="M240.7 95.6l1.7 -0.7" stroke="#2d7ce6" stroke-width="1.1" opacity="0.46"/><path d="M236.2 41.7l4.3 -0.7" stroke="#5fd0b0" stroke-width="1.3" opacity="0.46"/><path d="M235.8 40.4l4.3 -0.7" stroke="#3656d6" stroke-width="1.3" opacity="0.42"/><path d="M281.1 124.4l3.8 -0.3" stroke="#5fd0b0" stroke-width="1.1" opacity="0.44"/><path d="M281.5 123.1l3.1 -0.3" stroke="#2d7ce6" stroke-width="1.2" opacity="0.40"/><path d="M256.3 51.3l2.2 -0.3" stroke="#5fd0b0" stroke-width="1.2" opacity="0.65"/><path d="M255.5 50.0l2.1 -0.3" stroke="#2d7ce6" stroke-width="1.1" opacity="0.59"/><path d="M255.5 36.3l5.0 -0.3" stroke="#4cc4d6" stroke-width="1.4" opacity="0.66"/><path d="M256.3 35.0l4.2 -0.3" stroke="#2f6be2" stroke-width="1.1" opacity="0.60"/><path d="M212.0 61.6l2.4 -0.6" stroke="#8fd06a" stroke-width="1.0" opacity="0.42"/><path d="M212.4 60.3l1.8 -0.6" stroke="#2d7ce6" stroke-width="1.2" opacity="0.38"/><path d="M250.3 39.6l3.6 -0.6" stroke="#c8d248" stroke-width="0.9" opacity="0.75"/><path d="M249.5 38.3l3.6 -0.6" stroke="#2d7ce6" stroke-width="1.0" opacity="0.68"/><path d="M204.0 67.6l4.1 -0.4" stroke="#4cc4d6" stroke-width="1.1" opacity="0.44"/><path d="M204.7 66.3l3.2 -0.4" stroke="#2f6be2" stroke-width="1.1" opacity="0.40"/><path d="M244.7 88.7l2.7 -0.2" stroke="#5fd0b0" stroke-width="1.0" opacity="0.72"/><path d="M245.0 87.4l2.8 -0.2" stroke="#2f6be2" stroke-width="0.9" opacity="0.65"/><path d="M246.5 108.2l2.4 0.1" stroke="#c8d248" stroke-width="1.3" opacity="0.72"/><path d="M246.0 106.9l1.9 0.1" stroke="#2d7ce6" stroke-width="1.3" opacity="0.65"/><path d="M233.8 30.8l3.6 0.1" stroke="#7fd08a" stroke-width="1.2" opacity="0.47"/><path d="M233.9 29.5l4.0 0.1" stroke="#2f6be2" stroke-width="1.1" opacity="0.43"/><path d="M266.3 123.8l3.6 0.3" stroke="#4cc4d6" stroke-width="0.9" opacity="0.75"/><path d="M266.9 122.5l2.9 0.3" stroke="#2d7ce6" stroke-width="1.3" opacity="0.68"/><path d="M218.0 117.2l3.0 -0.6" stroke="#62d0b2" stroke-width="1.0" opacity="0.58"/><path d="M218.9 115.9l2.5 -0.6" stroke="#2d7ce6" stroke-width="1.0" opacity="0.52"/><path d="M217.1 111.6l2.4 -0.2" stroke="#8fd06a" stroke-width="1.2" opacity="0.37"/><path d="M216.8 110.3l2.0 -0.2" stroke="#2f6be2" stroke-width="1.4" opacity="0.34"/><path d="M202.5 53.3l4.0 -0.0" stroke="#8fd06a" stroke-width="1.0" opacity="0.53"/><path d="M203.0 52.1l3.6 -0.0" stroke="#2d7ce6" stroke-width="1.0" opacity="0.36"/><path d="M214.7 41.2l4.8 -1.2" stroke="#62d0b2" stroke-width="1.0" opacity="0.50"/><path d="M215.2 40.0l4.3 -1.2" stroke="#3656d6" stroke-width="1.0" opacity="0.44"/><path d="M206.2 48.2l4.8 0.5" stroke="#7fd08a" stroke-width="1.0" opacity="0.50"/><path d="M206.7 47.0l4.3 0.5" stroke="#2d7ce6" stroke-width="1.0" opacity="0.47"/><path d="M198.6 74.4l3.8 0.5" stroke="#5fd0b0" stroke-width="1.0" opacity="0.54"/><path d="M199.1 73.2l3.4 0.5" stroke="#3656d6" stroke-width="1.0" opacity="0.38"/><path d="M200.9 73.3l3.0 -1.1" stroke="#7fd08a" stroke-width="1.0" opacity="0.56"/><path d="M201.4 72.1l2.7 -1.1" stroke="#2d7ce6" stroke-width="1.0" opacity="0.44"/><path d="M261.2 132.7l2.1 -0.9" stroke="#8fd06a" stroke-width="1.0" opacity="0.41"/><path d="M261.7 131.5l1.9 -0.9" stroke="#2d7ce6" stroke-width="1.0" opacity="0.56"/><path d="M219.1 33.6l4.7 -0.2" stroke="#4cc4d6" stroke-width="1.0" opacity="0.54"/><path d="M219.6 32.4l4.3 -0.2" stroke="#3656d6" stroke-width="1.0" opacity="0.55"/><path d="M274.5 34.9l4.8 -0.9" stroke="#62d0b2" stroke-width="1.0" opacity="0.59"/><path d="M275.0 33.7l4.4 -0.9" stroke="#2d7ce6" stroke-width="1.0" opacity="0.60"/><path d="M211.6 44.7l2.7 0.5" stroke="#8fd06a" stroke-width="1.0" opacity="0.65"/><path d="M212.1 43.5l2.5 0.5" stroke="#3656d6" stroke-width="1.0" opacity="0.42"/><path d="M215.7 118.0l4.6 -0.4" stroke="#5fd0b0" stroke-width="1.0" opacity="0.55"/><path d="M216.2 116.8l4.1 -0.4" stroke="#2f6be2" stroke-width="1.0" opacity="0.40"/><path d="M301.4 105.0l5.0 -1.2" stroke="#62d0b2" stroke-width="1.0" opacity="0.74"/><path d="M301.9 103.8l4.5 -1.2" stroke="#2f6be2" stroke-width="1.0" opacity="0.38"/><path d="M193.6 85.0l2.3 0.2" stroke="#8fd06a" stroke-width="1.0" opacity="0.74"/><path d="M194.1 83.8l2.0 0.2" stroke="#2f6be2" stroke-width="1.0" opacity="0.43"/><path d="M280.0 133.5l2.7 0.6" stroke="#8fd06a" stroke-width="1.0" opacity="0.66"/><path d="M280.5 132.3l2.4 0.6" stroke="#3656d6" stroke-width="1.0" opacity="0.44"/><path d="M250.3 27.3l2.7 -1.0" stroke="#7fd08a" stroke-width="1.0" opacity="0.68"/><path d="M250.8 26.1l2.4 -1.0" stroke="#3656d6" stroke-width="1.0" opacity="0.50"/><path d="M237.8 29.1l3.7 0.4" stroke="#5fd0b0" stroke-width="1.0" opacity="0.70"/><path d="M238.3 27.9l3.3 0.4" stroke="#2d7ce6" stroke-width="1.0" opacity="0.53"/><path d="M303.8 55.5l4.0 -0.4" stroke="#7fd08a" stroke-width="1.0" opacity="0.57"/><path d="M304.3 54.3l3.6 -0.4" stroke="#2d7ce6" stroke-width="1.0" opacity="0.59"/><path d="M197.2 63.1l4.7 0.6" stroke="#62d0b2" stroke-width="1.0" opacity="0.61"/><path d="M197.7 61.9l4.2 0.6" stroke="#2d7ce6" stroke-width="1.0" opacity="0.38"/><path d="M225.4 127.0l2.9 0.7" stroke="#8fd06a" stroke-width="1.0" opacity="0.43"/><path d="M225.9 125.8l2.6 0.7" stroke="#2d7ce6" stroke-width="1.0" opacity="0.63"/><path d="M259.1 29.6l2.9 -0.1" stroke="#7fd08a" stroke-width="1.0" opacity="0.68"/><path d="M259.6 28.4l2.6 -0.1" stroke="#2d7ce6" stroke-width="1.0" opacity="0.36"/><path d="M301.4 111.7l2.1 0.9" stroke="#62d0b2" stroke-width="1.0" opacity="0.43"/><path d="M301.9 110.5l1.9 0.9" stroke="#2d7ce6" stroke-width="1.0" opacity="0.49"/><path d="M206.7 46.4l4.5 -0.2" stroke="#4cc4d6" stroke-width="1.0" opacity="0.42"/><path d="M207.2 45.2l4.0 -0.2" stroke="#2f6be2" stroke-width="1.0" opacity="0.43"/><path d="M232.5 136.6l4.6 0.8" stroke="#c8d248" stroke-width="1.0" opacity="0.73"/><path d="M233.0 135.4l4.2 0.8" stroke="#2f6be2" stroke-width="1.0" opacity="0.42"/><path d="M271.8 27.9l2.2 -0.7" stroke="#7fd08a" stroke-width="1.0" opacity="0.75"/><path d="M272.3 26.7l1.9 -0.7" stroke="#2f6be2" stroke-width="1.0" opacity="0.39"/><path d="M295.2 45.4l4.6 -1.0" stroke="#4cc4d6" stroke-width="1.0" opacity="0.64"/><path d="M295.7 44.2l4.1 -1.0" stroke="#2f6be2" stroke-width="1.0" opacity="0.52"/><path d="M240.6 133.2l3.1 0.6" stroke="#4cc4d6" stroke-width="1.0" opacity="0.63"/><path d="M241.1 132.0l2.8 0.6" stroke="#2d7ce6" stroke-width="1.0" opacity="0.49"/><path d="M305.2 97.5l2.3 -1.0" stroke="#8fd06a" stroke-width="1.0" opacity="0.57"/><path d="M305.7 96.3l2.1 -1.0" stroke="#2f6be2" stroke-width="1.0" opacity="0.38"/><path d="M195.1 91.0l2.6 -0.3" stroke="#5fd0b0" stroke-width="1.0" opacity="0.60"/><path d="M195.6 89.8l2.3 -0.3" stroke="#2f6be2" stroke-width="1.0" opacity="0.45"/><path d="M271.0 31.4l4.7 -0.6" stroke="#8fd06a" stroke-width="1.0" opacity="0.42"/><path d="M271.5 30.2l4.2 -0.6" stroke="#2f6be2" stroke-width="1.0" opacity="0.37"/><path d="M201.5 103.0l4.9 -0.8" stroke="#7fd08a" stroke-width="1.0" opacity="0.45"/><path d="M202.0 101.8l4.4 -0.8" stroke="#3656d6" stroke-width="1.0" opacity="0.40"/><path d="M195.7 72.6l4.3 1.0" stroke="#7fd08a" stroke-width="1.0" opacity="0.72"/><path d="M196.2 71.4l3.8 1.0" stroke="#3656d6" stroke-width="1.0" opacity="0.62"/><path d="M217.1 43.2l3.9 -0.1" stroke="#7fd08a" stroke-width="1.0" opacity="0.54"/><path d="M217.6 42.0l3.5 -0.1" stroke="#2f6be2" stroke-width="1.0" opacity="0.64"/><path d="M275.1 34.6l2.3 0.3" stroke="#62d0b2" stroke-width="1.0" opacity="0.66"/><path d="M275.6 33.4l2.0 0.3" stroke="#2d7ce6" stroke-width="1.0" opacity="0.52"/><path d="M301.9 63.8l4.5 1.1" stroke="#8fd06a" stroke-width="1.0" opacity="0.44"/><path d="M302.4 62.6l4.0 1.1" stroke="#3656d6" stroke-width="1.0" opacity="0.64"/><path d="M276.8 128.2l4.1 -1.0" stroke="#8fd06a" stroke-width="1.0" opacity="0.72"/><path d="M277.3 127.0l3.7 -1.0" stroke="#2d7ce6" stroke-width="1.0" opacity="0.52"/><path d="M212.1 123.8l2.5 1.0" stroke="#8fd06a" stroke-width="1.0" opacity="0.53"/><path d="M212.6 122.6l2.2 1.0" stroke="#2d7ce6" stroke-width="1.0" opacity="0.45"/><path d="M211.4 39.9l3.3 0.9" stroke="#5fd0b0" stroke-width="1.0" opacity="0.70"/><path d="M211.9 38.7l2.9 0.9" stroke="#2f6be2" stroke-width="1.0" opacity="0.41"/><path d="M200.7 57.3l4.3 1.0" stroke="#5fd0b0" stroke-width="1.0" opacity="0.44"/><path d="M201.2 56.1l3.8 1.0" stroke="#2f6be2" stroke-width="1.0" opacity="0.40"/><path d="M202.9 111.5l3.3 -0.8" stroke="#5fd0b0" stroke-width="1.0" opacity="0.49"/><path d="M203.4 110.3l3.0 -0.8" stroke="#3656d6" stroke-width="1.0" opacity="0.48"/><path d="M213.7 117.2l3.2 0.8" stroke="#c8d248" stroke-width="1.0" opacity="0.61"/><path d="M214.2 116.0l2.9 0.8" stroke="#2f6be2" stroke-width="1.0" opacity="0.46"/><path d="M195.4 90.6l4.7 0.8" stroke="#4cc4d6" stroke-width="1.0" opacity="0.61"/><path d="M195.9 89.4l4.3 0.8" stroke="#3656d6" stroke-width="1.0" opacity="0.39"/><path d="M196.1 68.3l2.6 -0.4" stroke="#8fd06a" stroke-width="1.0" opacity="0.68"/><path d="M196.6 67.1l2.3 -0.4" stroke="#3656d6" stroke-width="1.0" opacity="0.55"/><path d="M262.0 138.4l4.7 -0.6" stroke="#5fd0b0" stroke-width="1.0" opacity="0.65"/><path d="M262.5 137.2l4.2 -0.6" stroke="#2f6be2" stroke-width="1.0" opacity="0.53"/><path d="M215.9 45.2l4.8 0.9" stroke="#4cc4d6" stroke-width="1.0" opacity="0.46"/><path d="M216.4 44.0l4.4 0.9" stroke="#2d7ce6" stroke-width="1.0" opacity="0.41"/><path d="M280.9 37.6l3.0 -1.1" stroke="#62d0b2" stroke-width="1.0" opacity="0.59"/><path d="M281.4 36.4l2.7 -1.1" stroke="#2f6be2" stroke-width="1.0" opacity="0.57"/><path d="M223.0 36.1l2.8 0.3" stroke="#c8d248" stroke-width="1.0" opacity="0.66"/><path d="M223.5 34.9l2.5 0.3" stroke="#2d7ce6" stroke-width="1.0" opacity="0.58"/><path d="M284.3 126.0l4.7 -0.9" stroke="#7fd08a" stroke-width="1.0" opacity="0.72"/><path d="M284.8 124.8l4.3 -0.9" stroke="#2f6be2" stroke-width="1.0" opacity="0.48"/><path d="M199.6 60.7l3.9 0.9" stroke="#7fd08a" stroke-width="1.0" opacity="0.60"/><path d="M200.1 59.5l3.5 0.9" stroke="#2d7ce6" stroke-width="1.0" opacity="0.61"/><path d="M239.4 31.3l3.4 0.8" stroke="#7fd08a" stroke-width="1.0" opacity="0.49"/><path d="M239.9 30.1l3.0 0.8" stroke="#2d7ce6" stroke-width="1.0" opacity="0.57"/><path d="M270.4 135.5l4.6 0.2" stroke="#7fd08a" stroke-width="1.0" opacity="0.63"/><path d="M270.9 134.3l4.1 0.2" stroke="#2f6be2" stroke-width="1.0" opacity="0.55"/><path d="M280.2 30.9l4.3 1.1" stroke="#8fd06a" stroke-width="1.0" opacity="0.57"/><path d="M280.7 29.7l3.8 1.1" stroke="#2f6be2" stroke-width="1.0" opacity="0.52"/><path d="M297.1 56.8l4.2 0.5" stroke="#4cc4d6" stroke-width="1.0" opacity="0.67"/><path d="M297.6 55.6l3.8 0.5" stroke="#2d7ce6" stroke-width="1.0" opacity="0.36"/><path d="M281.0 127.8l2.2 -0.4" stroke="#7fd08a" stroke-width="1.0" opacity="0.59"/><path d="M281.5 126.6l1.9 -0.4" stroke="#2f6be2" stroke-width="1.0" opacity="0.40"/><path d="M298.9 110.0l4.5 -0.1" stroke="#5fd0b0" stroke-width="1.0" opacity="0.68"/><path d="M299.4 108.8l4.1 -0.1" stroke="#3656d6" stroke-width="1.0" opacity="0.59"/><path d="M200.6 81.8l2.5 -0.5" stroke="#c8d248" stroke-width="1.0" opacity="0.47"/><path d="M201.1 80.6l2.3 -0.5" stroke="#3656d6" stroke-width="1.0" opacity="0.50"/><path d="M239.5 132.8l4.2 1.2" stroke="#5fd0b0" stroke-width="1.0" opacity="0.61"/><path d="M240.0 131.6l3.8 1.2" stroke="#2d7ce6" stroke-width="1.0" opacity="0.44"/><path d="M302.1 112.7l3.5 0.3" stroke="#7fd08a" stroke-width="1.0" opacity="0.65"/><path d="M302.6 111.5l3.2 0.3" stroke="#2f6be2" stroke-width="1.0" opacity="0.40"/><path d="M228.2 134.4l2.9 -1.0" stroke="#4cc4d6" stroke-width="1.0" opacity="0.51"/><path d="M228.7 133.2l2.6 -1.0" stroke="#2d7ce6" stroke-width="1.0" opacity="0.56"/><path d="M310.7 80.2l2.9 -0.0" stroke="#4cc4d6" stroke-width="1.0" opacity="0.49"/><path d="M311.2 79.0l2.6 -0.0" stroke="#3656d6" stroke-width="1.0" opacity="0.51"/><path d="M239.2 135.3l4.5 0.1" stroke="#62d0b2" stroke-width="1.0" opacity="0.47"/><path d="M239.7 134.1l4.0 0.1" stroke="#2f6be2" stroke-width="1.0" opacity="0.36"/><path d="M195.9 93.5l3.9 0.9" stroke="#8fd06a" stroke-width="1.0" opacity="0.75"/><path d="M196.4 92.3l3.5 0.9" stroke="#3656d6" stroke-width="1.0" opacity="0.64"/><path d="M302.2 59.1l2.7 0.6" stroke="#62d0b2" stroke-width="1.0" opacity="0.43"/><path d="M302.7 57.9l2.4 0.6" stroke="#2d7ce6" stroke-width="1.0" opacity="0.46"/><path d="M248.0 26.1l3.2 -0.9" stroke="#62d0b2" stroke-width="1.0" opacity="0.65"/><path d="M248.5 24.9l2.9 -0.9" stroke="#2f6be2" stroke-width="1.0" opacity="0.50"/><path d="M197.1 67.0l3.7 0.9" stroke="#c8d248" stroke-width="1.0" opacity="0.58"/><path d="M197.6 65.8l3.3 0.9" stroke="#3656d6" stroke-width="1.0" opacity="0.38"/><path d="M202.0 55.2l4.3 0.8" stroke="#c8d248" stroke-width="1.0" opacity="0.41"/><path d="M202.5 54.0l3.9 0.8" stroke="#3656d6" stroke-width="1.0" opacity="0.55"/><path d="M308.3 76.1l3.0 -0.9" stroke="#4cc4d6" stroke-width="1.0" opacity="0.61"/><path d="M308.8 74.9l2.7 -0.9" stroke="#2f6be2" stroke-width="1.0" opacity="0.39"/><path d="M200.6 98.4l3.0 -0.8" stroke="#4cc4d6" stroke-width="1.0" opacity="0.44"/><path d="M201.1 97.2l2.7 -0.8" stroke="#2f6be2" stroke-width="1.0" opacity="0.47"/><path d="M214.0 39.7l4.6 -0.2" stroke="#62d0b2" stroke-width="1.0" opacity="0.67"/><path d="M214.5 38.5l4.1 -0.2" stroke="#3656d6" stroke-width="1.0" opacity="0.54"/><path d="M309.0 81.8l2.8 0.2" stroke="#8fd06a" stroke-width="1.0" opacity="0.63"/><path d="M309.5 80.6l2.5 0.2" stroke="#2f6be2" stroke-width="1.0" opacity="0.63"/><path d="M217.5 127.5l3.0 0.5" stroke="#8fd06a" stroke-width="1.0" opacity="0.44"/><path d="M218.0 126.3l2.7 0.5" stroke="#3656d6" stroke-width="1.0" opacity="0.43"/><path d="M300.1 105.0l2.6 0.1" stroke="#8fd06a" stroke-width="1.0" opacity="0.70"/><path d="M300.6 103.8l2.4 0.1" stroke="#2d7ce6" stroke-width="1.0" opacity="0.36"/><path d="M278.3 32.9l2.7 0.8" stroke="#c8d248" stroke-width="1.0" opacity="0.50"/><path d="M278.8 31.7l2.4 0.8" stroke="#2f6be2" stroke-width="1.0" opacity="0.41"/><path d="M194.4 90.1l4.0 -0.5" stroke="#c8d248" stroke-width="1.0" opacity="0.71"/><path d="M194.9 88.9l3.6 -0.5" stroke="#2f6be2" stroke-width="1.0" opacity="0.58"/><path d="M213.8 125.3l4.1 0.8" stroke="#7fd08a" stroke-width="1.0" opacity="0.44"/><path d="M214.3 124.1l3.7 0.8" stroke="#2d7ce6" stroke-width="1.0" opacity="0.63"/><path d="M202.1 112.8l4.2 1.0" stroke="#c8d248" stroke-width="1.0" opacity="0.49"/><path d="M202.6 111.6l3.8 1.0" stroke="#3656d6" stroke-width="1.0" opacity="0.55"/><path d="M201.1 104.5l3.2 0.2" stroke="#c8d248" stroke-width="1.0" opacity="0.65"/><path d="M201.6 103.3l2.8 0.2" stroke="#3656d6" stroke-width="1.0" opacity="0.59"/><path d="M204.9 104.3l4.9 -1.1" stroke="#7fd08a" stroke-width="1.0" opacity="0.44"/><path d="M205.4 103.1l4.4 -1.1" stroke="#2d7ce6" stroke-width="1.0" opacity="0.42"/><path d="M293.6 116.9l3.9 -0.9" stroke="#5fd0b0" stroke-width="1.0" opacity="0.64"/><path d="M294.1 115.7l3.5 -0.9" stroke="#2f6be2" stroke-width="1.0" opacity="0.60"/><path d="M281.2 127.1l2.7 -0.3" stroke="#7fd08a" stroke-width="1.0" opacity="0.75"/><path d="M281.7 125.9l2.5 -0.3" stroke="#3656d6" stroke-width="1.0" opacity="0.57"/><path d="M200.9 93.1l3.7 -0.2" stroke="#7fd08a" stroke-width="1.0" opacity="0.43"/><path d="M201.4 91.9l3.4 -0.2" stroke="#2f6be2" stroke-width="1.0" opacity="0.43"/><path d="M284.9 42.8l3.3 1.2" stroke="#4cc4d6" stroke-width="1.0" opacity="0.65"/><path d="M285.4 41.6l3.0 1.2" stroke="#3656d6" stroke-width="1.0" opacity="0.52"/><path d="M214.1 41.2l4.9 0.4" stroke="#62d0b2" stroke-width="1.0" opacity="0.64"/><path d="M214.6 40.0l4.4 0.4" stroke="#3656d6" stroke-width="1.0" opacity="0.37"/><path d="M251.7 136.3l2.3 1.1" stroke="#4cc4d6" stroke-width="1.0" opacity="0.75"/><path d="M252.2 135.1l2.1 1.1" stroke="#2f6be2" stroke-width="1.0" opacity="0.43"/><path d="M293.3 112.3l4.2 0.8" stroke="#c8d248" stroke-width="1.0" opacity="0.71"/><path d="M293.8 111.1l3.8 0.8" stroke="#2f6be2" stroke-width="1.0" opacity="0.43"/><path d="M272.8 34.8l2.4 -1.1" stroke="#7fd08a" stroke-width="1.0" opacity="0.59"/><path d="M273.3 33.6l2.1 -1.1" stroke="#2f6be2" stroke-width="1.0" opacity="0.56"/><path d="M201.4 110.8l3.2 0.8" stroke="#c8d248" stroke-width="1.0" opacity="0.43"/><path d="M201.9 109.6l2.8 0.8" stroke="#2d7ce6" stroke-width="1.0" opacity="0.52"/><path d="M244.6 137.4l4.5 -0.3" stroke="#4cc4d6" stroke-width="1.0" opacity="0.55"/><path d="M245.1 136.2l4.0 -0.3" stroke="#2f6be2" stroke-width="1.0" opacity="0.40"/><path d="M299.0 52.6l2.3 0.2" stroke="#62d0b2" stroke-width="1.0" opacity="0.74"/><path d="M299.5 51.4l2.1 0.2" stroke="#2d7ce6" stroke-width="1.0" opacity="0.49"/><path d="M260.2 24.3l2.2 0.9" stroke="#62d0b2" stroke-width="1.0" opacity="0.45"/><path d="M260.7 23.1l2.0 0.9" stroke="#2f6be2" stroke-width="1.0" opacity="0.51"/><path d="M222.6 38.2l4.4 0.1" stroke="#c8d248" stroke-width="1.0" opacity="0.61"/><path d="M223.1 37.0l4.0 0.1" stroke="#2f6be2" stroke-width="1.0" opacity="0.62"/><path d="M202.0 59.4l4.5 -0.6" stroke="#5fd0b0" stroke-width="1.0" opacity="0.75"/><path d="M202.5 58.2l4.1 -0.6" stroke="#2f6be2" stroke-width="1.0" opacity="0.63"/><path d="M287.4 118.6l3.0 0.0" stroke="#7fd08a" stroke-width="0.8" opacity="0.21"/><path d="M269.4 33.5l3.7 0.0" stroke="#8fd06a" stroke-width="0.8" opacity="0.31"/><path d="M314.2 66.2l3.6 0.0" stroke="#4cc4d6" stroke-width="0.8" opacity="0.25"/><path d="M229.4 50.4l2.6 0.0" stroke="#5fd0b0" stroke-width="0.8" opacity="0.36"/><path d="M199.4 122.5l2.2 0.0" stroke="#c8d248" stroke-width="0.8" opacity="0.35"/><path d="M305.2 70.4l3.9 0.0" stroke="#4cc4d6" stroke-width="0.8" opacity="0.24"/><path d="M281.0 48.5l3.7 0.0" stroke="#5fd0b0" stroke-width="0.8" opacity="0.30"/><path d="M223.6 146.2l2.4 0.0" stroke="#4cc4d6" stroke-width="0.8" opacity="0.25"/><path d="M208.8 28.0l3.6 0.0" stroke="#4cc4d6" stroke-width="0.8" opacity="0.35"/><path d="M242.4 146.0l3.1 0.0" stroke="#7fd08a" stroke-width="0.8" opacity="0.35"/><path d="M281.5 16.6l2.5 0.0" stroke="#5fd0b0" stroke-width="0.8" opacity="0.32"/><path d="M280.6 135.0l3.4 0.0" stroke="#8fd06a" stroke-width="0.8" opacity="0.29"/><path d="M315.1 88.8l2.5 0.0" stroke="#c8d248" stroke-width="0.8" opacity="0.33"/><path d="M236.7 121.6l3.1 0.0" stroke="#4cc4d6" stroke-width="0.8" opacity="0.20"/><path d="M190.1 80.9l2.8 0.0" stroke="#8fd06a" stroke-width="0.8" opacity="0.40"/><path d="M227.9 67.2l3.1 0.0" stroke="#c8d248" stroke-width="0.8" opacity="0.23"/><path d="M184.7 140.9l2.7 0.0" stroke="#62d0b2" stroke-width="0.8" opacity="0.35"/><path d="M312.0 147.5l2.5 0.0" stroke="#5fd0b0" stroke-width="0.8" opacity="0.34"/><path d="M268.9 84.3l3.8 0.0" stroke="#7fd08a" stroke-width="0.8" opacity="0.27"/><path d="M226.0 89.2l2.2 0.0" stroke="#62d0b2" stroke-width="0.8" opacity="0.34"/></g>
<path d="M186 104 L210 127" stroke="#8fd070" stroke-width="0.9" opacity="0.35" stroke-dasharray="4 2 6 3"/>
</g>
<g clip-path="url(#cpc)">
<rect x="354" y="11.5" width="146" height="146.5" fill="url(#gcBase)"/>
<ellipse cx="360" cy="14" rx="34" ry="26" fill="#444" opacity="0.55" filter="url(#bl8)"/>
<ellipse cx="362" cy="156" rx="40" ry="16" fill="#444" opacity="0.45" filter="url(#bl8)"/>
<rect x="354" y="11.5" width="146" height="146.5" fill="#000" filter="url(#fTexCbg)" opacity="0.4"/>
<g filter="url(#bl1)"><g filter="url(#fStreakC)"><circle cx="428.5" cy="84.5" r="66" fill="url(#gcCirc)"/></g></g>
<g filter="url(#fTexCd)" opacity="0.3"><circle cx="428.5" cy="84.5" r="60" fill="#000" filter="url(#bl2)"/></g>
<g filter="url(#fTexCl)" opacity="0.3"><ellipse cx="428" cy="86" rx="40" ry="44" fill="#000" filter="url(#bl8)"/></g>
<g mask="url(#mRip)"><g filter="url(#fWob)"><rect x="340" y="0" width="180" height="175" fill="url(#pRipD)"/></g></g>
<g mask="url(#mRipL)"><g filter="url(#fWob)"><rect x="340" y="0" width="180" height="175" fill="url(#pRipL)"/></g></g>
<g stroke-linecap="round" filter="url(#bl0_5)"><path d="M370.4 57.3l6.2 2.4" stroke="#262626" stroke-width="1.1" opacity="0.52"/><path d="M471.7 56.2l5.4 -2.6" stroke="#262626" stroke-width="1.0" opacity="0.54"/><path d="M367.8 72.6l6.7 3.3" stroke="#262626" stroke-width="0.9" opacity="0.34"/><path d="M373.2 87.2l5.2 -2.7" stroke="#262626" stroke-width="1.0" opacity="0.50"/><path d="M479.5 59.3l5.6 -1.9" stroke="#262626" stroke-width="0.7" opacity="0.54"/><path d="M413.4 139.9l6.5 -3.4" stroke="#262626" stroke-width="0.8" opacity="0.35"/><path d="M429.8 139.7l2.5 1.2" stroke="#262626" stroke-width="0.9" opacity="0.37"/><path d="M448.3 133.0l2.6 1.5" stroke="#262626" stroke-width="1.1" opacity="0.42"/><path d="M465.5 121.9l3.0 1.2" stroke="#262626" stroke-width="0.7" opacity="0.33"/><path d="M441.7 135.6l5.4 2.4" stroke="#262626" stroke-width="1.0" opacity="0.36"/><path d="M365.4 68.6l3.9 1.2" stroke="#262626" stroke-width="1.0" opacity="0.36"/><path d="M435.5 32.9l6.4 -2.0" stroke="#262626" stroke-width="1.0" opacity="0.38"/><path d="M400.0 144.6l5.7 -2.0" stroke="#262626" stroke-width="1.0" opacity="0.43"/><path d="M477.9 94.3l5.2 2.7" stroke="#262626" stroke-width="1.0" opacity="0.38"/><path d="M369.7 80.2l6.4 3.8" stroke="#262626" stroke-width="1.0" opacity="0.26"/><path d="M376.0 123.3l4.0 -1.3" stroke="#262626" stroke-width="0.8" opacity="0.46"/><path d="M385.5 44.2l5.3 2.8" stroke="#262626" stroke-width="1.3" opacity="0.50"/><path d="M367.2 111.9l6.7 -3.7" stroke="#262626" stroke-width="1.2" opacity="0.43"/><path d="M362.1 78.5l5.3 2.7" stroke="#262626" stroke-width="0.8" opacity="0.28"/><path d="M418.3 145.1l5.1 -1.8" stroke="#262626" stroke-width="0.8" opacity="0.54"/><path d="M484.0 111.3l6.0 2.8" stroke="#262626" stroke-width="1.3" opacity="0.45"/><path d="M491.4 86.0l4.4 2.5" stroke="#262626" stroke-width="1.2" opacity="0.29"/><path d="M476.2 95.8l6.0 3.2" stroke="#262626" stroke-width="0.8" opacity="0.28"/><path d="M383.4 133.1l5.8 -3.3" stroke="#262626" stroke-width="1.3" opacity="0.48"/><path d="M454.0 40.3l2.5 -1.4" stroke="#262626" stroke-width="1.1" opacity="0.35"/><path d="M465.7 124.5l4.0 1.8" stroke="#262626" stroke-width="1.0" opacity="0.31"/><path d="M474.7 111.0l3.1 1.0" stroke="#262626" stroke-width="0.9" opacity="0.29"/><path d="M444.6 28.9l4.6 -2.2" stroke="#262626" stroke-width="0.8" opacity="0.26"/><path d="M476.4 110.6l4.1 1.6" stroke="#262626" stroke-width="0.9" opacity="0.50"/><path d="M484.6 86.8l4.2 1.6" stroke="#262626" stroke-width="1.1" opacity="0.32"/><path d="M477.4 97.3l6.9 2.8" stroke="#262626" stroke-width="0.8" opacity="0.54"/><path d="M386.4 31.8l4.0 2.2" stroke="#262626" stroke-width="0.7" opacity="0.32"/><path d="M441.9 28.8l6.1 -2.5" stroke="#262626" stroke-width="1.2" opacity="0.27"/><path d="M387.8 45.3l3.4 1.9" stroke="#262626" stroke-width="1.0" opacity="0.49"/><path d="M412.0 146.9l6.6 -3.2" stroke="#262626" stroke-width="0.8" opacity="0.45"/><path d="M486.5 66.2l4.5 -1.9" stroke="#262626" stroke-width="0.8" opacity="0.48"/><path d="M457.2 130.2l2.6 0.9" stroke="#262626" stroke-width="0.9" opacity="0.39"/><path d="M451.8 135.2l5.9 1.9" stroke="#262626" stroke-width="0.8" opacity="0.41"/><path d="M479.3 48.5l5.1 -1.7" stroke="#262626" stroke-width="1.2" opacity="0.55"/><path d="M474.3 50.4l4.2 -2.0" stroke="#262626" stroke-width="1.2" opacity="0.55"/><path d="M367.5 87.8l3.9 -1.8" stroke="#262626" stroke-width="1.0" opacity="0.33"/><path d="M364.1 102.0l3.6 -1.3" stroke="#262626" stroke-width="0.9" opacity="0.51"/><path d="M404.3 146.4l6.7 -3.8" stroke="#262626" stroke-width="1.2" opacity="0.31"/><path d="M366.2 104.9l3.6 -1.7" stroke="#262626" stroke-width="1.2" opacity="0.53"/><path d="M395.5 128.3l2.6 -1.0" stroke="#262626" stroke-width="1.0" opacity="0.33"/><path d="M453.2 31.3l5.3 -2.9" stroke="#262626" stroke-width="0.9" opacity="0.44"/><path d="M393.8 130.5l3.0 -1.6" stroke="#262626" stroke-width="1.2" opacity="0.26"/><path d="M415.3 31.9l4.4 1.7" stroke="#262626" stroke-width="1.2" opacity="0.38"/><path d="M369.8 80.0l3.6 1.4" stroke="#262626" stroke-width="0.7" opacity="0.25"/><path d="M366.5 64.2l5.5 2.1" stroke="#262626" stroke-width="1.3" opacity="0.27"/><path d="M375.3 109.1l3.3 -1.9" stroke="#262626" stroke-width="1.1" opacity="0.29"/><path d="M454.5 140.5l4.2 1.6" stroke="#262626" stroke-width="0.9" opacity="0.35"/><path d="M378.1 53.8l5.2 1.6" stroke="#262626" stroke-width="1.0" opacity="0.43"/><path d="M397.9 144.2l6.7 -3.3" stroke="#262626" stroke-width="0.9" opacity="0.30"/><path d="M387.4 44.0l3.2 1.5" stroke="#262626" stroke-width="0.8" opacity="0.44"/><path d="M429.0 33.4l5.3 -1.9" stroke="#262626" stroke-width="0.9" opacity="0.47"/><path d="M480.6 73.5l5.9 -2.4" stroke="#262626" stroke-width="1.3" opacity="0.30"/><path d="M398.9 37.4l5.0 2.6" stroke="#262626" stroke-width="1.2" opacity="0.48"/><path d="M371.0 65.5l5.3 2.6" stroke="#262626" stroke-width="1.1" opacity="0.46"/><path d="M423.9 17.9l5.3 3.0" stroke="#262626" stroke-width="1.1" opacity="0.36"/><path d="M443.9 32.2l6.2 -3.5" stroke="#262626" stroke-width="1.2" opacity="0.52"/><path d="M405.7 28.4l3.8 1.9" stroke="#262626" stroke-width="1.2" opacity="0.36"/><path d="M440.6 144.0l6.6 2.4" stroke="#262626" stroke-width="0.8" opacity="0.28"/><path d="M366.4 63.2l3.6 1.9" stroke="#262626" stroke-width="0.7" opacity="0.31"/><path d="M366.2 65.2l4.7 2.4" stroke="#262626" stroke-width="0.9" opacity="0.36"/><path d="M375.2 77.0l3.4 1.4" stroke="#262626" stroke-width="1.1" opacity="0.31"/><path d="M428.4 149.2l5.4 2.3" stroke="#262626" stroke-width="1.2" opacity="0.46"/><path d="M450.3 30.7l5.3 -1.7" stroke="#262626" stroke-width="1.0" opacity="0.37"/><path d="M423.1 142.8l6.5 -2.4" stroke="#262626" stroke-width="0.8" opacity="0.35"/><path d="M450.6 128.7l6.6 3.1" stroke="#262626" stroke-width="0.7" opacity="0.41"/><path d="M452.1 134.7l6.8 4.0" stroke="#262626" stroke-width="0.9" opacity="0.48"/><path d="M373.3 88.1l4.3 -2.3" stroke="#262626" stroke-width="1.2" opacity="0.47"/><path d="M482.8 81.7l5.7 -3.1" stroke="#262626" stroke-width="1.3" opacity="0.51"/><path d="M466.0 44.8l4.2 -2.0" stroke="#262626" stroke-width="0.8" opacity="0.34"/><path d="M389.0 125.1l3.3 -1.7" stroke="#262626" stroke-width="0.9" opacity="0.27"/><path d="M446.1 23.1l3.5 -1.8" stroke="#262626" stroke-width="0.7" opacity="0.32"/><path d="M457.2 135.5l5.0 2.7" stroke="#262626" stroke-width="1.1" opacity="0.48"/><path d="M469.2 42.5l3.5 -1.2" stroke="#262626" stroke-width="1.2" opacity="0.50"/><path d="M385.6 31.4l6.1 2.6" stroke="#262626" stroke-width="0.8" opacity="0.38"/><path d="M483.2 52.9l2.5 -0.8" stroke="#262626" stroke-width="1.0" opacity="0.52"/><path d="M473.2 41.0l2.8 -1.0" stroke="#262626" stroke-width="1.2" opacity="0.38"/><path d="M399.7 144.4l2.6 -1.2" stroke="#262626" stroke-width="1.2" opacity="0.46"/><path d="M468.6 50.0l5.0 -3.0" stroke="#262626" stroke-width="0.8" opacity="0.38"/><path d="M479.7 83.1l6.0 -3.1" stroke="#262626" stroke-width="0.9" opacity="0.55"/><path d="M435.3 33.6l7.0 -3.9" stroke="#262626" stroke-width="1.0" opacity="0.26"/><path d="M438.4 26.7l5.8 -1.9" stroke="#262626" stroke-width="1.0" opacity="0.49"/><path d="M419.1 29.7l4.0 1.7" stroke="#262626" stroke-width="1.0" opacity="0.55"/><path d="M473.4 64.3l5.3 -1.8" stroke="#262626" stroke-width="1.2" opacity="0.41"/><path d="M477.0 46.9l6.7 -2.4" stroke="#262626" stroke-width="0.7" opacity="0.48"/><path d="M364.9 99.1l4.5 -1.9" stroke="#262626" stroke-width="1.1" opacity="0.36"/><path d="M368.2 86.7l5.5 -1.8" stroke="#262626" stroke-width="1.0" opacity="0.42"/><path d="M400.7 24.0l4.2 2.5" stroke="#262626" stroke-width="1.1" opacity="0.37"/><path d="M373.0 62.0l5.4 1.7" stroke="#262626" stroke-width="1.2" opacity="0.36"/><path d="M479.5 87.6l4.0 1.5" stroke="#262626" stroke-width="1.2" opacity="0.36"/><path d="M474.8 57.7l4.1 -2.4" stroke="#262626" stroke-width="1.2" opacity="0.53"/><path d="M465.5 118.3l5.6 2.3" stroke="#262626" stroke-width="0.8" opacity="0.28"/><path d="M400.9 136.7l5.5 -3.3" stroke="#262626" stroke-width="0.8" opacity="0.49"/><path d="M371.8 46.7l7.0 4.0" stroke="#262626" stroke-width="0.8" opacity="0.47"/><path d="M435.7 28.5l2.6 -1.4" stroke="#262626" stroke-width="1.1" opacity="0.48"/><path d="M429.5 23.0l2.7 -1.6" stroke="#262626" stroke-width="1.3" opacity="0.36"/><path d="M440.7 21.9l4.4 -1.8" stroke="#262626" stroke-width="1.1" opacity="0.48"/><path d="M372.4 118.2l6.8 -2.8" stroke="#262626" stroke-width="1.2" opacity="0.29"/><path d="M373.3 48.4l4.3 1.7" stroke="#262626" stroke-width="0.9" opacity="0.36"/><path d="M382.1 122.1l3.6 -1.7" stroke="#262626" stroke-width="0.8" opacity="0.33"/><path d="M363.4 99.2l3.7 -1.3" stroke="#262626" stroke-width="1.2" opacity="0.43"/><path d="M474.5 128.7l3.4 1.7" stroke="#262626" stroke-width="0.8" opacity="0.50"/><path d="M383.9 130.4l6.1 -3.1" stroke="#262626" stroke-width="0.9" opacity="0.34"/><path d="M374.2 54.1l5.7 1.8" stroke="#262626" stroke-width="0.7" opacity="0.25"/><path d="M444.0 34.6l5.9 -2.6" stroke="#262626" stroke-width="1.3" opacity="0.44"/><path d="M455.5 41.8l6.5 -2.7" stroke="#262626" stroke-width="0.7" opacity="0.51"/><path d="M433.4 144.8l2.6 1.1" stroke="#262626" stroke-width="1.0" opacity="0.38"/><path d="M451.1 36.0l6.6 -2.3" stroke="#262626" stroke-width="1.3" opacity="0.34"/><path d="M397.4 24.4l5.6 3.1" stroke="#262626" stroke-width="0.8" opacity="0.54"/><path d="M484.8 98.5l6.2 3.3" stroke="#262626" stroke-width="1.1" opacity="0.43"/><path d="M480.2 81.8l6.6 -3.6" stroke="#262626" stroke-width="0.8" opacity="0.39"/><path d="M375.6 107.5l6.3 -3.5" stroke="#262626" stroke-width="1.2" opacity="0.26"/><path d="M417.4 18.4l5.7 3.3" stroke="#262626" stroke-width="1.3" opacity="0.46"/><path d="M422.7 27.2l6.0 2.4" stroke="#262626" stroke-width="0.9" opacity="0.35"/><path d="M407.9 134.1l3.2 -1.2" stroke="#262626" stroke-width="0.8" opacity="0.26"/><path d="M420.8 20.2l4.0 2.1" stroke="#262626" stroke-width="1.2" opacity="0.26"/><path d="M372.8 56.9l3.3 1.9" stroke="#262626" stroke-width="1.2" opacity="0.41"/><path d="M365.1 69.3l2.8 1.6" stroke="#262626" stroke-width="1.0" opacity="0.34"/><path d="M423.3 144.8l3.0 -1.6" stroke="#262626" stroke-width="0.9" opacity="0.52"/><path d="M487.4 66.7l3.0 -1.1" stroke="#262626" stroke-width="1.1" opacity="0.53"/><path d="M385.2 42.7l6.1 2.7" stroke="#262626" stroke-width="1.1" opacity="0.39"/><path d="M484.7 66.9l3.0 -1.5" stroke="#262626" stroke-width="0.9" opacity="0.30"/><path d="M369.4 87.2l6.8 -2.5" stroke="#262626" stroke-width="1.0" opacity="0.25"/><path d="M405.9 143.4l4.7 -2.4" stroke="#262626" stroke-width="1.0" opacity="0.43"/><path d="M423.1 150.2l5.4 -1.7" stroke="#262626" stroke-width="1.2" opacity="0.30"/><path d="M372.5 116.4l6.5 -2.3" stroke="#262626" stroke-width="0.9" opacity="0.40"/><path d="M401.3 29.6l5.7 3.4" stroke="#262626" stroke-width="0.7" opacity="0.37"/><path d="M441.9 24.8l6.8 -2.7" stroke="#262626" stroke-width="0.8" opacity="0.45"/><path d="M455.7 29.6l4.9 -1.7" stroke="#262626" stroke-width="1.1" opacity="0.33"/><path d="M477.8 91.9l4.0 1.7" stroke="#262626" stroke-width="1.0" opacity="0.38"/><path d="M366.1 79.0l3.3 1.8" stroke="#262626" stroke-width="1.1" opacity="0.49"/><path d="M370.5 59.7l6.3 3.1" stroke="#262626" stroke-width="0.9" opacity="0.51"/><path d="M445.3 135.3l6.2 2.7" stroke="#262626" stroke-width="0.8" opacity="0.52"/><path d="M383.5 54.0l4.1 1.6" stroke="#262626" stroke-width="0.9" opacity="0.47"/><path d="M432.5 135.7l6.4 3.0" stroke="#262626" stroke-width="1.0" opacity="0.52"/><path d="M400.1 25.5l4.0 1.6" stroke="#262626" stroke-width="0.9" opacity="0.39"/><path d="M377.5 57.5l5.0 2.9" stroke="#262626" stroke-width="1.1" opacity="0.25"/><path d="M367.0 94.4l2.7 -1.6" stroke="#262626" stroke-width="1.2" opacity="0.42"/><path d="M365.8 76.9l4.3 2.0" stroke="#262626" stroke-width="1.0" opacity="0.35"/><path d="M374.0 95.3l5.3 -1.9" stroke="#262626" stroke-width="0.9" opacity="0.30"/><path d="M426.0 27.3l5.1 -2.3" stroke="#262626" stroke-width="1.1" opacity="0.36"/><path d="M421.9 148.1l5.8 -2.0" stroke="#262626" stroke-width="0.8" opacity="0.36"/><path d="M442.3 31.1l3.5 -1.5" stroke="#262626" stroke-width="1.0" opacity="0.44"/><path d="M400.8 138.6l6.9 -3.7" stroke="#262626" stroke-width="0.8" opacity="0.40"/><path d="M464.6 137.1l3.7 2.1" stroke="#262626" stroke-width="0.8" opacity="0.32"/><path d="M395.4 132.6l4.0 -1.7" stroke="#262626" stroke-width="0.9" opacity="0.28"/><path d="M383.9 39.6l3.5 1.2" stroke="#262626" stroke-width="0.7" opacity="0.30"/><path d="M364.8 76.1l6.7 3.7" stroke="#262626" stroke-width="0.8" opacity="0.33"/><path d="M444.8 133.8l2.6 1.2" stroke="#262626" stroke-width="1.3" opacity="0.54"/><path d="M481.3 91.8l4.1 2.3" stroke="#262626" stroke-width="0.8" opacity="0.38"/><path d="M471.0 40.3l3.3 -1.5" stroke="#262626" stroke-width="1.1" opacity="0.29"/><path d="M466.3 38.5l4.1 -1.7" stroke="#262626" stroke-width="0.8" opacity="0.52"/><path d="M447.3 139.4l5.6 2.7" stroke="#262626" stroke-width="1.2" opacity="0.33"/><path d="M398.3 35.3l5.7 3.0" stroke="#262626" stroke-width="1.0" opacity="0.47"/><path d="M403.6 37.1l3.5 1.3" stroke="#262626" stroke-width="1.1" opacity="0.50"/><path d="M434.8 148.2l3.4 1.5" stroke="#262626" stroke-width="1.2" opacity="0.33"/><path d="M459.6 44.5l3.8 -2.1" stroke="#262626" stroke-width="1.1" opacity="0.29"/><path d="M367.9 89.0l2.6 -1.5" stroke="#262626" stroke-width="0.7" opacity="0.53"/><path d="M405.7 26.1l4.2 1.6" stroke="#262626" stroke-width="1.0" opacity="0.54"/><path d="M474.3 116.1l5.2 3.1" stroke="#262626" stroke-width="1.1" opacity="0.53"/><path d="M407.3 28.2l6.7 2.1" stroke="#262626" stroke-width="1.1" opacity="0.25"/><path d="M470.9 111.3l4.5 2.4" stroke="#262626" stroke-width="1.2" opacity="0.44"/><path d="M388.0 126.5l4.5 -1.8" stroke="#262626" stroke-width="1.0" opacity="0.44"/><path d="M481.4 119.2l3.1 1.7" stroke="#262626" stroke-width="0.7" opacity="0.25"/><path d="M481.3 71.8l4.3 -2.3" stroke="#262626" stroke-width="0.7" opacity="0.43"/><path d="M466.8 41.5l2.6 -0.9" stroke="#262626" stroke-width="1.2" opacity="0.31"/></g>
<circle cx="490" cy="38" r="1.8" fill="#222" opacity="0.7" filter="url(#bl0_7)"/><circle cx="487" cy="29" r="1.1" fill="#222" opacity="0.6" filter="url(#bl0_7)"/>
</g>
<g clip-path="url(#cpd)">
<rect x="8" y="184" width="147" height="146.6" fill="url(#gdBase)"/>
<rect x="0" y="150" width="200" height="220" fill="url(#gdGrad)"/>
<g filter="url(#bl0_7)">
<g filter="url(#fTexD)" opacity="0.8"><g filter="url(#fStreakD)"><path d="M66 150 L70 184 L86 240 L98 290 L110 334 L200 334 L200 150 Z" fill="#000" filter="url(#bl4)"/></g></g>
<g filter="url(#fTexD2)" opacity="0.5"><g filter="url(#fStreakD)"><path d="M58 150 L62 184 L76 240 L88 290 L100 334 L150 334 L134 240 L120 150 Z" fill="#000" filter="url(#bl4)"/></g></g>
<g filter="url(#fTexD2)" opacity="0.22"><path d="M120 150 L150 334 L200 334 L200 150 Z" fill="#000" filter="url(#bl4)"/></g>
<g filter="url(#fTexD3)" opacity="0.6"><g filter="url(#fStreakD)"><path d="M50 150 L54 184 L68 240 L80 290 L92 334 L130 334 L110 240 L98 150 Z" fill="#000" filter="url(#bl4)"/></g></g>
</g>
<ellipse cx="118" cy="338" rx="50" ry="17" fill="#c49414" opacity="0.7" filter="url(#bl6)"/>
<ellipse cx="150" cy="200" rx="10" ry="30" fill="#6a0505" opacity="0.45" filter="url(#bl6)"/>
<rect x="8" y="319" width="60" height="5" fill="#a88a18" opacity="0.3" filter="url(#bl2)"/>
</g>
<g clip-path="url(#cpe)">
<rect x="179" y="184" width="147" height="147" fill="#269de6"/>
<rect x="179" y="184" width="147" height="147" fill="#000" filter="url(#fTexE)" opacity="0.30"/>
<rect x="179" y="184" width="147" height="147" fill="#000" filter="url(#fTexEd)" opacity="0.45"/>
<g transform="rotate(30 252 257)"><rect x="130" y="130" width="250" height="250" fill="#000" filter="url(#fTexB1)" opacity="0.45"/><rect x="130" y="130" width="250" height="250" fill="#000" filter="url(#fTexB2)" opacity="0.45"/></g>
<g stroke-linecap="round" filter="url(#bl2)"><path d="M214 203L266 244" stroke="#62ceA0" stroke-width="5" opacity="0.7"/><path d="M232 226L264 250" stroke="#7ad084" stroke-width="3.5" opacity="0.55"/><path d="M270 204L322 256" stroke="#4cc8c8" stroke-width="3.5" opacity="0.45"/><path d="M280 268L320 290" stroke="#6fd08a" stroke-width="3" opacity="0.5"/><path d="M286 272L326 300" stroke="#5cccb0" stroke-width="3" opacity="0.4"/><path d="M246 210L290 228" stroke="#6fd08a" stroke-width="3" opacity="0.4"/><path d="M280 264L328 302" stroke="#4cc8c0" stroke-width="3.5" opacity="0.4"/><path d="M186 240L230 270" stroke="#48c0d8" stroke-width="3" opacity="0.22"/><path d="M250 280L300 318" stroke="#4cc8c8" stroke-width="3" opacity="0.3"/><path d="M296 190L328 214" stroke="#48c0d8" stroke-width="3" opacity="0.3"/><path d="M200 290L240 322" stroke="#48c0d8" stroke-width="3" opacity="0.18"/></g>
<g filter="url(#bl1_5)"><ellipse cx="238.8" cy="197.6" rx="8.8" ry="2.6" fill="#74d088" opacity="0.75"/><ellipse cx="268.4" cy="200.7" rx="6.2" ry="2.6" fill="#74d088" opacity="0.68"/><ellipse cx="254.8" cy="210.7" rx="19.7" ry="2.6" fill="#74d088" opacity="0.75"/><ellipse cx="285.0" cy="205.2" rx="11.5" ry="2.6" fill="#74d088" opacity="0.60"/><ellipse cx="291.3" cy="203.9" rx="5.2" ry="2.6" fill="#74d088" opacity="0.68"/><ellipse cx="245.4" cy="222.0" rx="6.1" ry="2.6" fill="#74d088" opacity="0.26"/><ellipse cx="275.0" cy="244.0" rx="6.5" ry="2.6" fill="#74d088" opacity="0.68"/><ellipse cx="254.8" cy="246.1" rx="4.2" ry="2.6" fill="#74d088" opacity="0.30"/><ellipse cx="280.2" cy="253.2" rx="4.8" ry="2.6" fill="#74d088" opacity="0.38"/><ellipse cx="267.8" cy="266.9" rx="7.7" ry="2.6" fill="#74d088" opacity="0.75"/><ellipse cx="275.6" cy="271.9" rx="11.3" ry="2.6" fill="#74d088" opacity="0.68"/><ellipse cx="274.1" cy="279.2" rx="8.8" ry="2.6" fill="#74d088" opacity="0.64"/><ellipse cx="300.1" cy="270.2" rx="9.8" ry="2.6" fill="#74d088" opacity="0.26"/><ellipse cx="304.5" cy="317.0" rx="11.5" ry="2.6" fill="#74d088" opacity="0.75"/><ellipse cx="311.5" cy="323.8" rx="17.0" ry="2.6" fill="#74d088" opacity="0.75"/><ellipse cx="323.9" cy="311.5" rx="4.7" ry="2.6" fill="#74d088" opacity="0.68"/><ellipse cx="324.5" cy="321.2" rx="4.0" ry="2.6" fill="#74d088" opacity="0.60"/><ellipse cx="227.0" cy="214.2" rx="5.5" ry="2.6" fill="#74d088" opacity="0.22"/><ellipse cx="307.0" cy="284.2" rx="7.5" ry="2.6" fill="#74d088" opacity="0.22"/></g>
<g filter="url(#bl0_7)"><path d="M230.5 195.4l14.5 -1.5" stroke="#e6d440" stroke-width="1.25" opacity="1.00" stroke-dasharray="4.6 1.0"/><path d="M262.7 198.5l9.3 -1.0" stroke="#e6d440" stroke-width="1.25" opacity="0.90" stroke-dasharray="3.5 0.5"/><path d="M235.7 208.5l36.3 0.6" stroke="#e6d440" stroke-width="1.25" opacity="1.00" stroke-dasharray="7.0 1.2"/><path d="M274.0 203.0l20.0 -0.8" stroke="#e6d440" stroke-width="1.25" opacity="0.80" stroke-dasharray="5.5 1.5"/><path d="M286.6 201.7l7.4 -0.5" stroke="#e6d440" stroke-width="1.25" opacity="0.90" stroke-dasharray="4.0 0.5"/><path d="M239.8 219.8l9.2 0.0" stroke="#e6d440" stroke-width="1.25" opacity="0.35" stroke-dasharray="4.7 0.5"/><path d="M269.0 241.8l10.0 0.0" stroke="#e6d440" stroke-width="1.25" opacity="0.90" stroke-dasharray="5.6 0.8"/><path d="M251.0 243.9l5.5 0.0" stroke="#e6d440" stroke-width="1.25" opacity="0.40" stroke-dasharray="5.4 1.0"/><path d="M276.0 251.0l6.5 0.0" stroke="#e6d440" stroke-width="1.25" opacity="0.50" stroke-dasharray="6.2 1.2"/><path d="M260.6 264.7l12.4 0.3" stroke="#e6d440" stroke-width="1.25" opacity="1.00" stroke-dasharray="6.4 0.5"/><path d="M264.8 269.7l19.7 0.5" stroke="#e6d440" stroke-width="1.25" opacity="0.90" stroke-dasharray="5.6 1.0"/><path d="M265.8 277.0l14.6 0.3" stroke="#e6d440" stroke-width="1.25" opacity="0.85" stroke-dasharray="5.4 0.6"/><path d="M290.8 268.0l16.6 0.8" stroke="#e6d440" stroke-width="1.25" opacity="0.35" stroke-dasharray="3.7 1.1"/><path d="M293.5 314.8l20.0 0.0" stroke="#e6d440" stroke-width="1.25" opacity="1.00" stroke-dasharray="4.1 0.5"/><path d="M295.0 321.6l31.0 0.3" stroke="#e6d440" stroke-width="1.25" opacity="1.00" stroke-dasharray="4.1 1.5"/><path d="M319.7 309.3l6.3 0.0" stroke="#e6d440" stroke-width="1.25" opacity="0.90" stroke-dasharray="5.2 1.4"/><path d="M321.0 319.0l5.0 0.0" stroke="#e6d440" stroke-width="1.25" opacity="0.80" stroke-dasharray="6.8 1.2"/><path d="M222.0 212.0l8.0 0.0" stroke="#e6d440" stroke-width="1.25" opacity="0.30" stroke-dasharray="5.6 1.4"/><path d="M300.0 282.0l12.0 0.5" stroke="#e6d440" stroke-width="1.25" opacity="0.30" stroke-dasharray="6.1 0.8"/></g>
<g stroke-linecap="round" filter="url(#bl0_5)"><path d="M241.3 192.9l1.9 0" stroke="#2a36b4" stroke-width="1.1" opacity="0.90"/><path d="M233.3 193.7l1.6 0" stroke="#2a36b4" stroke-width="1.1" opacity="0.90"/><path d="M263.8 197.0l2.5 0" stroke="#2a36b4" stroke-width="1.1" opacity="0.81"/><path d="M248.7 207.3l2.3 0" stroke="#2a36b4" stroke-width="1.1" opacity="0.90"/><path d="M259.4 207.5l2.2 0" stroke="#2a36b4" stroke-width="1.1" opacity="0.90"/><path d="M238.2 207.1l3.2 0" stroke="#2a36b4" stroke-width="1.1" opacity="0.90"/><path d="M256.9 207.4l1.7 0" stroke="#2a36b4" stroke-width="1.1" opacity="0.90"/><path d="M238.1 207.1l1.7 0" stroke="#2a36b4" stroke-width="1.1" opacity="0.90"/><path d="M268.6 207.6l1.7 0" stroke="#2a36b4" stroke-width="1.1" opacity="0.90"/><path d="M274.6 201.6l2.3 0" stroke="#2a36b4" stroke-width="1.1" opacity="0.72"/><path d="M282.6 201.3l3.3 0" stroke="#2a36b4" stroke-width="1.1" opacity="0.72"/><path d="M277.4 201.5l2.0 0" stroke="#2a36b4" stroke-width="1.1" opacity="0.72"/><path d="M290.2 200.1l3.1 0" stroke="#2a36b4" stroke-width="1.1" opacity="0.81"/><path d="M244.9 218.4l3.0 0" stroke="#2a36b4" stroke-width="1.1" opacity="0.32"/><path d="M275.6 240.4l2.8 0" stroke="#2a36b4" stroke-width="1.1" opacity="0.81"/><path d="M251.8 242.5l2.4 0" stroke="#2a36b4" stroke-width="1.1" opacity="0.36"/><path d="M277.6 249.6l3.1 0" stroke="#2a36b4" stroke-width="1.1" opacity="0.45"/><path d="M262.2 263.3l1.9 0" stroke="#2a36b4" stroke-width="1.1" opacity="0.90"/><path d="M260.8 263.3l3.0 0" stroke="#2a36b4" stroke-width="1.1" opacity="0.90"/><path d="M282.4 268.7l2.2 0" stroke="#2a36b4" stroke-width="1.1" opacity="0.81"/><path d="M268.3 268.4l1.7 0" stroke="#2a36b4" stroke-width="1.1" opacity="0.81"/><path d="M270.8 268.5l3.2 0" stroke="#2a36b4" stroke-width="1.1" opacity="0.81"/><path d="M271.3 275.7l1.6 0" stroke="#2a36b4" stroke-width="1.1" opacity="0.77"/><path d="M273.7 275.8l1.7 0" stroke="#2a36b4" stroke-width="1.1" opacity="0.77"/><path d="M303.0 267.2l2.7 0" stroke="#2a36b4" stroke-width="1.1" opacity="0.32"/><path d="M295.1 266.8l2.8 0" stroke="#2a36b4" stroke-width="1.1" opacity="0.32"/><path d="M298.4 313.4l2.9 0" stroke="#2a36b4" stroke-width="1.1" opacity="0.90"/><path d="M304.8 313.4l1.9 0" stroke="#2a36b4" stroke-width="1.1" opacity="0.90"/><path d="M308.6 313.4l3.2 0" stroke="#2a36b4" stroke-width="1.1" opacity="0.90"/><path d="M302.6 320.3l1.6 0" stroke="#2a36b4" stroke-width="1.1" opacity="0.90"/><path d="M309.9 320.3l3.2 0" stroke="#2a36b4" stroke-width="1.1" opacity="0.90"/><path d="M312.4 320.4l2.6 0" stroke="#2a36b4" stroke-width="1.1" opacity="0.90"/><path d="M309.1 320.3l2.1 0" stroke="#2a36b4" stroke-width="1.1" opacity="0.90"/><path d="M303.7 320.3l2.3 0" stroke="#2a36b4" stroke-width="1.1" opacity="0.90"/><path d="M320.0 307.9l2.0 0" stroke="#2a36b4" stroke-width="1.1" opacity="0.81"/><path d="M321.2 317.6l2.4 0" stroke="#2a36b4" stroke-width="1.1" opacity="0.72"/><path d="M222.5 210.6l3.3 0" stroke="#2a36b4" stroke-width="1.1" opacity="0.27"/><path d="M305.3 280.8l3.2 0" stroke="#2a36b4" stroke-width="1.1" opacity="0.27"/><path d="M302.4 280.7l2.9 0" stroke="#2a36b4" stroke-width="1.1" opacity="0.27"/></g>
</g>
<g clip-path="url(#cpf)">
<rect x="354" y="184" width="147" height="146.6" fill="#747474"/>
<ellipse cx="366" cy="196" rx="40" ry="26" fill="#8c8c8c" opacity="0.55" filter="url(#bl8)"/>
<ellipse cx="372" cy="322" rx="34" ry="18" fill="#6a6a6a" opacity="0.5" filter="url(#bl8)"/>
<g transform="rotate(38 427 257)"><rect x="300" y="130" width="260" height="260" fill="#000" filter="url(#fTexFd)" opacity="0.35"/><rect x="300" y="130" width="260" height="260" fill="#000" filter="url(#fTexFl)" opacity="0.3"/></g>
<path d="M385 178 L430 178 L440 210 L456 257 L480 300 L502 326 L502 340 L452 340 L440 300 L420 257 L392 210 Z" fill="#303030" opacity="0.52" filter="url(#bl4)"/>
<ellipse cx="492" cy="326" rx="26" ry="14" fill="#3c3c3c" opacity="0.5" filter="url(#bl6)"/>
<g filter="url(#fTexFh)" opacity="0.38"><path d="M425 184 L502 184 L502 332 L470 332 L445 262 Z" fill="#000" filter="url(#bl6)"/></g>
<g filter="url(#fTexFhd)" opacity="0.32"><path d="M425 184 L502 184 L502 332 L470 332 L445 262 Z" fill="#000" filter="url(#bl6)"/></g>
</g>
<g clip-path="url(#cpj)">
<rect x="8" y="511.5" width="148" height="147.2" fill="url(#gjCop)"/>
<ellipse cx="75" cy="585" rx="34" ry="22" fill="#b87844" opacity="0.4" filter="url(#bl8)" transform="rotate(-45 75 585)"/>
<rect x="8" y="511.5" width="148" height="147.2" fill="#000" filter="url(#fTexJd)" opacity="0.5"/>
<rect x="8" y="511.5" width="148" height="147.2" fill="#000" filter="url(#fTexJl)" opacity="0.4"/>
<path d="M0 667.6 L160 507.6" stroke="#a0602f" stroke-width="1.4" opacity="0.6" filter="url(#bl0_7)"/>
<path d="M0 671.6 L165 506.6" stroke="#f8be7e" stroke-width="5.2" filter="url(#bl0_5)"/>
<g filter="url(#fRough)"><path d="M10 665 L160 515 L160 665 Z" fill="#0b0403"/></g>
<path d="M18 659 L157 520 L157 659 Z" fill="#000" filter="url(#fTexJk)" opacity="0.45"/>
</g>
<text x="10.6" y="28.5" font-size="17.4" font-weight="normal" fill="#fff" text-anchor="start" stroke="#fff" stroke-width="0.3">(a)</text>
<text x="181.5" y="28.5" font-size="17.4" font-weight="normal" fill="#fff" text-anchor="start" stroke="#fff" stroke-width="0.3">(b)</text>
<text x="357.5" y="28.5" font-size="17.4" font-weight="normal" fill="#fff" text-anchor="start" stroke="#fff" stroke-width="0.3">(c)</text>
<text x="13" y="200.5" font-size="17.4" font-weight="normal" fill="#fff" text-anchor="start" stroke="#fff" stroke-width="0.3">(d)</text>
<text x="184.5" y="200.5" font-size="17.4" font-weight="normal" fill="#fff" text-anchor="start" stroke="#fff" stroke-width="0.3">(e)</text>
<text x="359" y="200.5" font-size="17.4" font-weight="normal" fill="#fff" text-anchor="start" stroke="#fff" stroke-width="0.3">(f)</text>
<text x="15" y="531.5" font-size="17.4" font-weight="normal" fill="#000" text-anchor="start" stroke="#000" stroke-width="0.3">(j)</text>
<rect x="11" y="94.3" width="38" height="37.500000000000014" fill="none" stroke="#fff" stroke-width="1.4" opacity="0.92"/>
<rect x="179" y="92.3" width="38.5" height="37.7" fill="none" stroke="#fff" stroke-width="1.4" opacity="0.92"/>
<rect x="355" y="92.3" width="38.5" height="37.7" fill="none" stroke="#fff" stroke-width="1.4" opacity="0.92"/>
<g clip-path="url(#cpa)"><line x1="131" y1="146.5" x2="140" y2="146.5" stroke="#fff" stroke-width="1.2"/><text x="140.5" y="157.8" font-size="12" font-weight="normal" fill="#fff" text-anchor="middle">1 µm</text></g>
<g clip-path="url(#cpb)"><line x1="298.7" y1="143.2" x2="307.5" y2="143.2" stroke="#fff" stroke-width="1.2"/><text x="311.2" y="155" font-size="12" font-weight="normal" fill="#fff" text-anchor="middle">1 µm</text></g>
<g clip-path="url(#cpc)"><line x1="478.7" y1="141.8" x2="487.8" y2="141.8" stroke="#fff" stroke-width="1.2"/><text x="486.6" y="153.6" font-size="12" font-weight="normal" fill="#fff" text-anchor="middle">1 µm</text></g>
<g clip-path="url(#cpj)"><line x1="128" y1="642.5" x2="143" y2="642.5" stroke="#fff" stroke-width="1.2"/><text x="136" y="653.5" font-size="12" font-weight="normal" fill="#fff" text-anchor="middle">1 µm</text></g>
<g clip-path="url(#cpd)"><line x1="19" y1="310" x2="55.4" y2="310" stroke="#fff" stroke-width="1.3"/><text x="34" y="323.6" font-size="13" font-weight="normal" fill="#fff" text-anchor="middle">1 µm</text></g>
<g clip-path="url(#cpe)"><line x1="184.2" y1="311" x2="221.4" y2="311" stroke="#fff" stroke-width="1.3"/><text x="204.5" y="324.2" font-size="13" font-weight="normal" fill="#fff" text-anchor="middle">1 µm</text></g>
<g clip-path="url(#cpf)"><line x1="358.8" y1="311" x2="395.7" y2="311" stroke="#fff" stroke-width="1.3"/><text x="378.6" y="324.2" font-size="13" font-weight="normal" fill="#fff" text-anchor="middle">1 µm</text></g>
<text x="79" y="196.5" font-family='"Liberation Sans", sans-serif' font-size="11.2" font-weight="bold" fill="#fff" text-anchor="middle">A</text>
<line x1="78.6" y1="198" x2="78.6" y2="214.6" stroke="#fff" stroke-width="1.3" stroke-dasharray="5 1.3 1.3 1.3"/>
<text x="94.3" y="251" font-family='"Liberation Sans", sans-serif' font-size="11.2" font-weight="bold" fill="#fff" text-anchor="middle">B</text>
<line x1="93.3" y1="254.5" x2="93.3" y2="276" stroke="#fff" stroke-width="1.3" stroke-dasharray="5 1.3 1.3 1.3"/>
<text x="120.3" y="304" font-family='"Liberation Sans", sans-serif' font-size="11.2" font-weight="bold" fill="#fff" text-anchor="middle">C</text>
<line x1="120" y1="306" x2="120" y2="319.6" stroke="#fff" stroke-width="1.3" stroke-dasharray="5 1.3 1.3 1.3"/>
<text x="250.8" y="198" font-family='"Liberation Sans", sans-serif' font-size="11.2" font-weight="bold" fill="#fff" text-anchor="middle">A</text>
<line x1="250.8" y1="199.6" x2="250.8" y2="214.3" stroke="#fff" stroke-width="1.3" stroke-dasharray="5 1.3 1.3 1.3"/>
<text x="268.1" y="254.3" font-family='"Liberation Sans", sans-serif' font-size="11.2" font-weight="bold" fill="#fff" text-anchor="middle">B</text>
<line x1="267" y1="256.5" x2="267" y2="278.2" stroke="#fff" stroke-width="1.3" stroke-dasharray="5 1.3 1.3 1.3"/>
<text x="302.2" y="308.5" font-family='"Liberation Sans", sans-serif' font-size="11.2" font-weight="bold" fill="#fff" text-anchor="middle">C</text>
<line x1="301.3" y1="310.6" x2="301.3" y2="323.6" stroke="#fff" stroke-width="1.3" stroke-dasharray="5 1.3 1.3 1.3"/>
<text x="425" y="197" font-family='"Liberation Sans", sans-serif' font-size="11.2" font-weight="bold" fill="#fff" text-anchor="middle">A</text>
<line x1="425" y1="198.7" x2="425" y2="213.2" stroke="#fff" stroke-width="1.3" stroke-dasharray="5 1.3 1.3 1.3"/>
<text x="442.3" y="254.3" font-family='"Liberation Sans", sans-serif' font-size="11.2" font-weight="bold" fill="#fff" text-anchor="middle">B</text>
<line x1="440.8" y1="257.2" x2="440.8" y2="278.2" stroke="#fff" stroke-width="1.3" stroke-dasharray="5 1.3 1.3 1.3"/>
<text x="475.5" y="307.8" font-family='"Liberation Sans", sans-serif' font-size="11.2" font-weight="bold" fill="#fff" text-anchor="middle">C</text>
<line x1="474.8" y1="310.2" x2="474.8" y2="323" stroke="#fff" stroke-width="1.3" stroke-dasharray="5 1.3 1.3 1.3"/>
<line x1="54.8" y1="575.8" x2="93.8" y2="612.7" stroke="#fff" stroke-width="1.2" stroke-dasharray="1.2 1.2"/>
<rect x="160.5" y="14" width="8.5" height="145.5" fill="url(#cbAFM)"/>
<rect x="161" y="185" width="9" height="145" fill="url(#cbAFM)"/>
<rect x="330" y="12.5" width="10" height="146.5" fill="url(#cbPar)"/>
<rect x="331" y="184" width="9.6" height="147" fill="url(#cbPar)"/>
<rect x="504.4" y="10.8" width="10" height="146.8" fill="url(#cbGray)" stroke="#999" stroke-width="0.5"/>
<rect x="505.3" y="183.6" width="9.9" height="147.4" fill="url(#cbGray)" stroke="#999" stroke-width="0.5"/>
<rect x="161" y="511.5" width="8.8" height="147.2" fill="url(#cbCop)"/>
<text x="154.5" y="10.6" font-size="9.4" font-weight="bold" fill="#000" text-anchor="start">279.9 nm</text>
<text x="152.6" y="169" font-size="9.4" font-weight="bold" fill="#000" text-anchor="start">-311.2 nm</text>
<text x="155.6" y="182.6" font-size="9.4" font-weight="bold" fill="#000" text-anchor="start">279.9 nm</text>
<text x="153" y="341.8" font-size="9.4" font-weight="bold" fill="#000" text-anchor="start">-311.2 nm</text>
<text x="335.9" y="10.6" font-size="8.8" font-weight="bold" fill="#000" text-anchor="middle" font-family='"Liberation Sans", sans-serif'>π</text>
<text x="335.2" y="166.3" font-size="8.8" font-weight="bold" fill="#000" text-anchor="middle" font-family='"Liberation Sans", sans-serif'>-π</text>
<text x="335.9" y="180.7" font-size="8.8" font-weight="bold" fill="#000" text-anchor="middle" font-family='"Liberation Sans", sans-serif'>π</text>
<text x="335.7" y="338.4" font-size="8.8" font-weight="bold" fill="#000" text-anchor="middle" font-family='"Liberation Sans", sans-serif'>-π</text>
<text x="508.8" y="7.3" font-size="8.9" font-weight="bold" fill="#000" text-anchor="middle">241</text>
<text x="510" y="167.1" font-size="8.9" font-weight="bold" fill="#000" text-anchor="middle">0</text>
<text x="509.7" y="182.2" font-size="8.9" font-weight="bold" fill="#000" text-anchor="middle">241</text>
<text x="509" y="341.4" font-size="8.9" font-weight="bold" fill="#000" text-anchor="middle">0</text>
<text x="164.7" y="509.3" font-size="8.9" font-weight="bold" fill="#000" text-anchor="middle">80</text>
<text x="164.8" y="668.9" font-size="8.9" font-weight="bold" fill="#000" text-anchor="middle">0</text>
<line x1="171.3" y1="511" x2="171.3" y2="658.5" stroke="#f6e8d6" stroke-width="0.8"/>
<line x1="0" y1="500" x2="150" y2="500" stroke="#fefbea" stroke-width="0.8"/>
<defs><clipPath id="cg"><rect x="26.3" y="362" width="134.7" height="111.6"/></clipPath><clipPath id="ch"><rect x="202.2" y="362" width="137" height="111.6"/></clipPath><clipPath id="ci"><rect x="376.3" y="362" width="135" height="111.4"/></clipPath><clipPath id="ck"><rect x="205.8" y="522.3" width="134.4" height="113.4"/></clipPath><clipPath id="cl"><rect x="377.9" y="521.8" width="133.6" height="114"/></clipPath></defs>
<line x1="48.75" y1="362" x2="48.75" y2="473.6" stroke="#e6e6e6" stroke-width="0.6"/><line x1="76.81" y1="362" x2="76.81" y2="473.6" stroke="#e6e6e6" stroke-width="0.6"/><line x1="104.88" y1="362" x2="104.88" y2="473.6" stroke="#e6e6e6" stroke-width="0.6"/><line x1="132.94" y1="362" x2="132.94" y2="473.6" stroke="#e6e6e6" stroke-width="0.6"/><line x1="26.3" y1="455.0" x2="161" y2="455.0" stroke="#e6e6e6" stroke-width="0.6"/><line x1="26.3" y1="436.4" x2="161" y2="436.4" stroke="#e6e6e6" stroke-width="0.6"/><line x1="26.3" y1="417.8" x2="161" y2="417.8" stroke="#e6e6e6" stroke-width="0.6"/><line x1="26.3" y1="399.2" x2="161" y2="399.2" stroke="#e6e6e6" stroke-width="0.6"/><line x1="26.3" y1="380.6" x2="161" y2="380.6" stroke="#e6e6e6" stroke-width="0.6"/>
<line x1="71.8" y1="362.0" x2="71.8" y2="397.3" stroke="#383838" stroke-width="1.1" stroke-dasharray="3 1.7"/>
<line x1="116.1" y1="362.0" x2="116.1" y2="389.9" stroke="#383838" stroke-width="1.1" stroke-dasharray="3 1.7"/>
<g clip-path="url(#cg)"><polyline points="26.9,420.6 34.7,411.3 43.1,412.2 51.0,411.3 58.6,419.7 66.4,429.9 74.0,436.4 81.9,442.0 89.4,437.3 96.5,432.7 104.3,429.0 111.9,423.4 119.5,417.8 126.8,415.9 134.3,422.5 142.8,432.7 151.2,445.7 160.2,455.9" fill="none" stroke="#1414e6" stroke-width="1.4" stroke-dasharray="3.2 2.6"/><circle cx="26.9" cy="420.6" r="1.4" fill="#1414e6"/><circle cx="34.7" cy="411.3" r="1.4" fill="#1414e6"/><circle cx="43.1" cy="412.2" r="1.4" fill="#1414e6"/><circle cx="51.0" cy="411.3" r="1.4" fill="#1414e6"/><circle cx="58.6" cy="419.7" r="1.4" fill="#1414e6"/><circle cx="66.4" cy="429.9" r="1.4" fill="#1414e6"/><circle cx="74.0" cy="436.4" r="1.4" fill="#1414e6"/><circle cx="81.9" cy="442.0" r="1.4" fill="#1414e6"/><circle cx="89.4" cy="437.3" r="1.4" fill="#1414e6"/><circle cx="96.5" cy="432.7" r="1.4" fill="#1414e6"/><circle cx="104.3" cy="429.0" r="1.4" fill="#1414e6"/><circle cx="111.9" cy="423.4" r="1.4" fill="#1414e6"/><circle cx="119.5" cy="417.8" r="1.4" fill="#1414e6"/><circle cx="126.8" cy="415.9" r="1.4" fill="#1414e6"/><circle cx="134.3" cy="422.5" r="1.4" fill="#1414e6"/><circle cx="142.8" cy="432.7" r="1.4" fill="#1414e6"/><circle cx="151.2" cy="445.7" r="1.4" fill="#1414e6"/><circle cx="160.2" cy="455.9" r="1.4" fill="#1414e6"/><polyline points="26.9,399.2 34.7,415.9 41.7,438.3 49.6,452.2 56.6,449.4 64.2,430.8 71.8,398.3 79.1,403.9 86.6,447.6 93.6,450.4 101.2,412.2 108.5,391.8 116.1,390.8 123.1,409.4 130.7,445.7 138.0,464.3 145.6,464.3 152.6,457.8 160.2,433.6" fill="none" stroke="#111" stroke-width="1.25" stroke-linejoin="round"/><rect x="25.2" y="397.5" width="3.4" height="3.4" fill="#111"/><rect x="33.0" y="414.2" width="3.4" height="3.4" fill="#111"/><rect x="40.0" y="436.6" width="3.4" height="3.4" fill="#111"/><rect x="47.9" y="450.5" width="3.4" height="3.4" fill="#111"/><rect x="54.9" y="447.7" width="3.4" height="3.4" fill="#111"/><rect x="62.5" y="429.1" width="3.4" height="3.4" fill="#111"/><rect x="70.1" y="396.6" width="3.4" height="3.4" fill="#111"/><rect x="77.4" y="402.2" width="3.4" height="3.4" fill="#111"/><rect x="84.9" y="445.9" width="3.4" height="3.4" fill="#111"/><rect x="91.9" y="448.7" width="3.4" height="3.4" fill="#111"/><rect x="99.5" y="410.5" width="3.4" height="3.4" fill="#111"/><rect x="106.8" y="390.1" width="3.4" height="3.4" fill="#111"/><rect x="114.4" y="389.1" width="3.4" height="3.4" fill="#111"/><rect x="121.4" y="407.7" width="3.4" height="3.4" fill="#111"/><rect x="129.0" y="444.0" width="3.4" height="3.4" fill="#111"/><rect x="136.3" y="462.6" width="3.4" height="3.4" fill="#111"/><rect x="143.9" y="462.6" width="3.4" height="3.4" fill="#111"/><rect x="150.9" y="456.1" width="3.4" height="3.4" fill="#111"/><rect x="158.5" y="431.9" width="3.4" height="3.4" fill="#111"/><polyline points="26.9,416.9 36.1,425.2 44.5,430.8 53.0,433.6 60.8,444.8 69.8,399.2 77.7,417.8 85.8,426.2 94.2,438.3 102.1,454.1 110.5,394.6 118.9,404.8 126.8,415.9 134.9,423.4 142.8,433.6 151.2,437.3 159.6,419.7" fill="none" stroke="#e8141c" stroke-width="1.25" stroke-linejoin="round"/><circle cx="26.9" cy="416.9" r="1.9" fill="none" stroke="#e8141c" stroke-width="1"/><circle cx="36.1" cy="425.2" r="1.9" fill="none" stroke="#e8141c" stroke-width="1"/><circle cx="44.5" cy="430.8" r="1.9" fill="none" stroke="#e8141c" stroke-width="1"/><circle cx="53.0" cy="433.6" r="1.9" fill="none" stroke="#e8141c" stroke-width="1"/><circle cx="60.8" cy="444.8" r="1.9" fill="none" stroke="#e8141c" stroke-width="1"/><circle cx="69.8" cy="399.2" r="1.9" fill="none" stroke="#e8141c" stroke-width="1"/><circle cx="77.7" cy="417.8" r="1.9" fill="none" stroke="#e8141c" stroke-width="1"/><circle cx="85.8" cy="426.2" r="1.9" fill="none" stroke="#e8141c" stroke-width="1"/><circle cx="94.2" cy="438.3" r="1.9" fill="none" stroke="#e8141c" stroke-width="1"/><circle cx="102.1" cy="454.1" r="1.9" fill="none" stroke="#e8141c" stroke-width="1"/><circle cx="110.5" cy="394.6" r="1.9" fill="none" stroke="#e8141c" stroke-width="1"/><circle cx="118.9" cy="404.8" r="1.9" fill="none" stroke="#e8141c" stroke-width="1"/><circle cx="126.8" cy="415.9" r="1.9" fill="none" stroke="#e8141c" stroke-width="1"/><circle cx="134.9" cy="423.4" r="1.9" fill="none" stroke="#e8141c" stroke-width="1"/><circle cx="142.8" cy="433.6" r="1.9" fill="none" stroke="#e8141c" stroke-width="1"/><circle cx="151.2" cy="437.3" r="1.9" fill="none" stroke="#e8141c" stroke-width="1"/><circle cx="159.6" cy="419.7" r="1.9" fill="none" stroke="#e8141c" stroke-width="1"/></g>
<rect x="26.3" y="362" width="134.7" height="111.60000000000002" fill="none" stroke="#b2b2b2" stroke-width="0.9"/><line x1="48.75" y1="473.6" x2="48.75" y2="472.1" stroke="#b2b2b2" stroke-width="0.6"/><line x1="48.75" y1="362" x2="48.75" y2="363.5" stroke="#b2b2b2" stroke-width="0.6"/><text x="48.75" y="484.2" font-size="8.5" font-weight="bold" fill="#000" text-anchor="middle">100</text><line x1="76.81" y1="473.6" x2="76.81" y2="472.1" stroke="#b2b2b2" stroke-width="0.6"/><line x1="76.81" y1="362" x2="76.81" y2="363.5" stroke="#b2b2b2" stroke-width="0.6"/><text x="76.81" y="484.2" font-size="8.5" font-weight="bold" fill="#000" text-anchor="middle">200</text><line x1="104.88" y1="473.6" x2="104.88" y2="472.1" stroke="#b2b2b2" stroke-width="0.6"/><line x1="104.88" y1="362" x2="104.88" y2="363.5" stroke="#b2b2b2" stroke-width="0.6"/><text x="104.88" y="484.2" font-size="8.5" font-weight="bold" fill="#000" text-anchor="middle">300</text><line x1="132.94" y1="473.6" x2="132.94" y2="472.1" stroke="#b2b2b2" stroke-width="0.6"/><line x1="132.94" y1="362" x2="132.94" y2="363.5" stroke="#b2b2b2" stroke-width="0.6"/><text x="132.94" y="484.2" font-size="8.5" font-weight="bold" fill="#000" text-anchor="middle">400</text><line x1="161.0" y1="473.6" x2="161.0" y2="472.1" stroke="#b2b2b2" stroke-width="0.6"/><line x1="161.0" y1="362" x2="161.0" y2="363.5" stroke="#b2b2b2" stroke-width="0.6"/><text x="161.0" y="484.2" font-size="8.5" font-weight="bold" fill="#000" text-anchor="middle">500</text><line x1="26.3" y1="473.6" x2="27.8" y2="473.6" stroke="#b2b2b2" stroke-width="0.6"/><line x1="161" y1="473.6" x2="159.5" y2="473.6" stroke="#b2b2b2" stroke-width="0.6"/><text x="23.3" y="476.45" font-size="8.5" font-weight="bold" fill="#000" text-anchor="end">-20</text><line x1="26.3" y1="455.0" x2="27.8" y2="455.0" stroke="#b2b2b2" stroke-width="0.6"/><line x1="161" y1="455.0" x2="159.5" y2="455.0" stroke="#b2b2b2" stroke-width="0.6"/><text x="23.3" y="457.85" font-size="8.5" font-weight="bold" fill="#000" text-anchor="end">0</text><line x1="26.3" y1="436.4" x2="27.8" y2="436.4" stroke="#b2b2b2" stroke-width="0.6"/><line x1="161" y1="436.4" x2="159.5" y2="436.4" stroke="#b2b2b2" stroke-width="0.6"/><text x="23.3" y="439.25" font-size="8.5" font-weight="bold" fill="#000" text-anchor="end">20</text><line x1="26.3" y1="417.8" x2="27.8" y2="417.8" stroke="#b2b2b2" stroke-width="0.6"/><line x1="161" y1="417.8" x2="159.5" y2="417.8" stroke="#b2b2b2" stroke-width="0.6"/><text x="23.3" y="420.65" font-size="8.5" font-weight="bold" fill="#000" text-anchor="end">40</text><line x1="26.3" y1="399.2" x2="27.8" y2="399.2" stroke="#b2b2b2" stroke-width="0.6"/><line x1="161" y1="399.2" x2="159.5" y2="399.2" stroke="#b2b2b2" stroke-width="0.6"/><text x="23.3" y="402.05" font-size="8.5" font-weight="bold" fill="#000" text-anchor="end">60</text><line x1="26.3" y1="380.6" x2="27.8" y2="380.6" stroke="#b2b2b2" stroke-width="0.6"/><line x1="161" y1="380.6" x2="159.5" y2="380.6" stroke="#b2b2b2" stroke-width="0.6"/><text x="23.3" y="383.45" font-size="8.5" font-weight="bold" fill="#000" text-anchor="end">80</text><line x1="26.3" y1="362.0" x2="27.8" y2="362.0" stroke="#b2b2b2" stroke-width="0.6"/><line x1="161" y1="362.0" x2="159.5" y2="362.0" stroke="#b2b2b2" stroke-width="0.6"/><text x="23.3" y="364.85" font-size="8.5" font-weight="bold" fill="#000" text-anchor="end">100</text>
<text x="93.9" y="375.90000000000003" font-size="9.5" font-weight="bold" fill="#000" text-anchor="middle">157 nm</text><line x1="73.7" y1="372.8" x2="78.5" y2="372.8" stroke="#222" stroke-width="0.9"/><path d="M72.7 372.8 l3.4 -1.9 l0 3.8 Z" fill="#222"/><line x1="114.2" y1="372.8" x2="109.3" y2="372.8" stroke="#222" stroke-width="0.9"/><path d="M115.2 372.8 l-3.4 -1.9 l0 3.8 Z" fill="#222"/>
<line x1="125.5" y1="370.3" x2="139.3" y2="370.3" stroke="#111" stroke-width="1.05"/><rect x="130.8" y="368.7" width="3.2" height="3.2" fill="#111"/><text x="140.8" y="372.90000000000003" font-size="7.6" font-weight="bold" fill="#000" text-anchor="start">AFM</text><line x1="125.5" y1="379" x2="139.3" y2="379" stroke="#e8141c" stroke-width="1.05"/><circle cx="132.4" cy="379" r="1.7" fill="#fff" stroke="#e8141c" stroke-width="0.9"/><text x="140.8" y="381.6" font-size="7.6" font-weight="bold" fill="#000" text-anchor="start">SIP</text><line x1="125.5" y1="387.6" x2="139.3" y2="387.6" stroke="#1414e6" stroke-width="1.2" stroke-dasharray="3.2 2.6"/><circle cx="132.4" cy="387.6" r="1.25" fill="#1414e6"/><text x="140.8" y="390.20000000000005" font-size="7.6" font-weight="bold" fill="#000" text-anchor="start">WF</text>
<text x="36.3" y="377.5" font-size="17.2" font-weight="normal" fill="#000" text-anchor="start" stroke="#000" stroke-width="0.25">(g)</text>
<text x="97.8" y="356.6" font-size="11.3" font-weight="bold" fill="#000" text-anchor="middle">Site A</text>
<text x="94.2" y="495.8" font-size="9.2" font-weight="bold" fill="#000" text-anchor="middle">x (nm)</text>
<text transform="translate(7.4 417.5) rotate(-90)" font-size="9.2" font-weight="bold" text-anchor="middle">Height (nm) or Gray value</text>
<line x1="210.11" y1="362" x2="210.11" y2="473.6" stroke="#e6e6e6" stroke-width="0.6"/><line x1="237.12" y1="362" x2="237.12" y2="473.6" stroke="#e6e6e6" stroke-width="0.6"/><line x1="264.12" y1="362" x2="264.12" y2="473.6" stroke="#e6e6e6" stroke-width="0.6"/><line x1="291.13" y1="362" x2="291.13" y2="473.6" stroke="#e6e6e6" stroke-width="0.6"/><line x1="318.14" y1="362" x2="318.14" y2="473.6" stroke="#e6e6e6" stroke-width="0.6"/><line x1="202.2" y1="465.81" x2="339.2" y2="465.81" stroke="#e6e6e6" stroke-width="0.6"/><line x1="202.2" y1="448.51" x2="339.2" y2="448.51" stroke="#e6e6e6" stroke-width="0.6"/><line x1="202.2" y1="431.21" x2="339.2" y2="431.21" stroke="#e6e6e6" stroke-width="0.6"/><line x1="202.2" y1="413.91" x2="339.2" y2="413.91" stroke="#e6e6e6" stroke-width="0.6"/><line x1="202.2" y1="396.6" x2="339.2" y2="396.6" stroke="#e6e6e6" stroke-width="0.6"/><line x1="202.2" y1="379.3" x2="339.2" y2="379.3" stroke="#e6e6e6" stroke-width="0.6"/>
<line x1="246.0" y1="362.0" x2="246.0" y2="382.8" stroke="#383838" stroke-width="1.1" stroke-dasharray="3 1.7"/>
<line x1="288.4" y1="362.0" x2="288.4" y2="402.7" stroke="#383838" stroke-width="1.1" stroke-dasharray="3 1.7"/>
<g clip-path="url(#ch)"><polyline points="202.0,398.3 203.9,396.6 211.5,391.4 219.6,389.7 227.7,396.6 235.8,407.0 243.1,413.0 250.6,417.4 258.7,421.7 266.8,424.3 274.9,421.7 282.5,417.4 289.8,414.8 297.9,413.9 305.2,414.8 312.7,419.1 320.8,424.3 328.9,431.2 337.0,432.9" fill="none" stroke="#1414e6" stroke-width="1.4" stroke-dasharray="3.2 2.6"/><circle cx="202.0" cy="398.3" r="1.4" fill="#1414e6"/><circle cx="203.9" cy="396.6" r="1.4" fill="#1414e6"/><circle cx="211.5" cy="391.4" r="1.4" fill="#1414e6"/><circle cx="219.6" cy="389.7" r="1.4" fill="#1414e6"/><circle cx="227.7" cy="396.6" r="1.4" fill="#1414e6"/><circle cx="235.8" cy="407.0" r="1.4" fill="#1414e6"/><circle cx="243.1" cy="413.0" r="1.4" fill="#1414e6"/><circle cx="250.6" cy="417.4" r="1.4" fill="#1414e6"/><circle cx="258.7" cy="421.7" r="1.4" fill="#1414e6"/><circle cx="266.8" cy="424.3" r="1.4" fill="#1414e6"/><circle cx="274.9" cy="421.7" r="1.4" fill="#1414e6"/><circle cx="282.5" cy="417.4" r="1.4" fill="#1414e6"/><circle cx="289.8" cy="414.8" r="1.4" fill="#1414e6"/><circle cx="297.9" cy="413.9" r="1.4" fill="#1414e6"/><circle cx="305.2" cy="414.8" r="1.4" fill="#1414e6"/><circle cx="312.7" cy="419.1" r="1.4" fill="#1414e6"/><circle cx="320.8" cy="424.3" r="1.4" fill="#1414e6"/><circle cx="328.9" cy="431.2" r="1.4" fill="#1414e6"/><circle cx="337.0" cy="432.9" r="1.4" fill="#1414e6"/><polyline points="202.0,407.0 203.9,410.4 211.5,431.2 218.5,455.4 225.5,447.6 232.5,415.6 239.5,389.7 246.8,383.6 253.3,385.4 260.6,413.9 267.9,466.7 274.4,469.3 281.7,419.1 288.7,403.5 295.7,418.2 302.5,428.6 309.5,436.4 316.8,446.8 324.1,459.8 330.8,449.4 337.8,420.8 339.7,417.4" fill="none" stroke="#111" stroke-width="1.25" stroke-linejoin="round"/><rect x="200.3" y="405.3" width="3.4" height="3.4" fill="#111"/><rect x="202.2" y="408.7" width="3.4" height="3.4" fill="#111"/><rect x="209.8" y="429.5" width="3.4" height="3.4" fill="#111"/><rect x="216.8" y="453.7" width="3.4" height="3.4" fill="#111"/><rect x="223.8" y="445.9" width="3.4" height="3.4" fill="#111"/><rect x="230.8" y="413.9" width="3.4" height="3.4" fill="#111"/><rect x="237.8" y="388.0" width="3.4" height="3.4" fill="#111"/><rect x="245.1" y="381.9" width="3.4" height="3.4" fill="#111"/><rect x="251.6" y="383.7" width="3.4" height="3.4" fill="#111"/><rect x="258.9" y="412.2" width="3.4" height="3.4" fill="#111"/><rect x="266.2" y="465.0" width="3.4" height="3.4" fill="#111"/><rect x="272.7" y="467.6" width="3.4" height="3.4" fill="#111"/><rect x="280.0" y="417.4" width="3.4" height="3.4" fill="#111"/><rect x="287.0" y="401.8" width="3.4" height="3.4" fill="#111"/><rect x="294.0" y="416.5" width="3.4" height="3.4" fill="#111"/><rect x="300.8" y="426.9" width="3.4" height="3.4" fill="#111"/><rect x="307.8" y="434.7" width="3.4" height="3.4" fill="#111"/><rect x="315.1" y="445.1" width="3.4" height="3.4" fill="#111"/><rect x="322.4" y="458.1" width="3.4" height="3.4" fill="#111"/><rect x="329.1" y="447.7" width="3.4" height="3.4" fill="#111"/><rect x="336.1" y="419.1" width="3.4" height="3.4" fill="#111"/><rect x="338.0" y="415.7" width="3.4" height="3.4" fill="#111"/><polyline points="203.9,433.8 211.5,434.7 219.3,438.1 227.1,445.9 235.0,452.8 243.1,402.7 250.9,416.5 259.0,423.4 266.8,434.7 274.4,438.1 281.7,420.0 289.5,421.7 297.3,430.3 304.9,427.7 313.0,437.3 320.8,441.6 328.9,454.6 336.8,420.8" fill="none" stroke="#e8141c" stroke-width="1.25" stroke-linejoin="round"/><circle cx="203.9" cy="433.8" r="1.9" fill="none" stroke="#e8141c" stroke-width="1"/><circle cx="211.5" cy="434.7" r="1.9" fill="none" stroke="#e8141c" stroke-width="1"/><circle cx="219.3" cy="438.1" r="1.9" fill="none" stroke="#e8141c" stroke-width="1"/><circle cx="227.1" cy="445.9" r="1.9" fill="none" stroke="#e8141c" stroke-width="1"/><circle cx="235.0" cy="452.8" r="1.9" fill="none" stroke="#e8141c" stroke-width="1"/><circle cx="243.1" cy="402.7" r="1.9" fill="none" stroke="#e8141c" stroke-width="1"/><circle cx="250.9" cy="416.5" r="1.9" fill="none" stroke="#e8141c" stroke-width="1"/><circle cx="259.0" cy="423.4" r="1.9" fill="none" stroke="#e8141c" stroke-width="1"/><circle cx="266.8" cy="434.7" r="1.9" fill="none" stroke="#e8141c" stroke-width="1"/><circle cx="274.4" cy="438.1" r="1.9" fill="none" stroke="#e8141c" stroke-width="1"/><circle cx="281.7" cy="420.0" r="1.9" fill="none" stroke="#e8141c" stroke-width="1"/><circle cx="289.5" cy="421.7" r="1.9" fill="none" stroke="#e8141c" stroke-width="1"/><circle cx="297.3" cy="430.3" r="1.9" fill="none" stroke="#e8141c" stroke-width="1"/><circle cx="304.9" cy="427.7" r="1.9" fill="none" stroke="#e8141c" stroke-width="1"/><circle cx="313.0" cy="437.3" r="1.9" fill="none" stroke="#e8141c" stroke-width="1"/><circle cx="320.8" cy="441.6" r="1.9" fill="none" stroke="#e8141c" stroke-width="1"/><circle cx="328.9" cy="454.6" r="1.9" fill="none" stroke="#e8141c" stroke-width="1"/><circle cx="336.8" cy="420.8" r="1.9" fill="none" stroke="#e8141c" stroke-width="1"/></g>
<rect x="202.2" y="362" width="137.0" height="111.60000000000002" fill="none" stroke="#b2b2b2" stroke-width="0.9"/><line x1="210.11" y1="473.6" x2="210.11" y2="472.1" stroke="#b2b2b2" stroke-width="0.6"/><line x1="210.11" y1="362" x2="210.11" y2="363.5" stroke="#b2b2b2" stroke-width="0.6"/><text x="210.11" y="484.2" font-size="8.5" font-weight="bold" fill="#000" text-anchor="middle">100</text><line x1="237.12" y1="473.6" x2="237.12" y2="472.1" stroke="#b2b2b2" stroke-width="0.6"/><line x1="237.12" y1="362" x2="237.12" y2="363.5" stroke="#b2b2b2" stroke-width="0.6"/><text x="237.12" y="484.2" font-size="8.5" font-weight="bold" fill="#000" text-anchor="middle">200</text><line x1="264.12" y1="473.6" x2="264.12" y2="472.1" stroke="#b2b2b2" stroke-width="0.6"/><line x1="264.12" y1="362" x2="264.12" y2="363.5" stroke="#b2b2b2" stroke-width="0.6"/><text x="264.12" y="484.2" font-size="8.5" font-weight="bold" fill="#000" text-anchor="middle">300</text><line x1="291.13" y1="473.6" x2="291.13" y2="472.1" stroke="#b2b2b2" stroke-width="0.6"/><line x1="291.13" y1="362" x2="291.13" y2="363.5" stroke="#b2b2b2" stroke-width="0.6"/><text x="291.13" y="484.2" font-size="8.5" font-weight="bold" fill="#000" text-anchor="middle">400</text><line x1="318.14" y1="473.6" x2="318.14" y2="472.1" stroke="#b2b2b2" stroke-width="0.6"/><line x1="318.14" y1="362" x2="318.14" y2="363.5" stroke="#b2b2b2" stroke-width="0.6"/><text x="318.14" y="484.2" font-size="8.5" font-weight="bold" fill="#000" text-anchor="middle">500</text><line x1="202.2" y1="465.81" x2="203.7" y2="465.81" stroke="#b2b2b2" stroke-width="0.6"/><line x1="339.2" y1="465.81" x2="337.7" y2="465.81" stroke="#b2b2b2" stroke-width="0.6"/><text x="199.2" y="468.66" font-size="8.5" font-weight="bold" fill="#000" text-anchor="end">-40</text><line x1="202.2" y1="448.51" x2="203.7" y2="448.51" stroke="#b2b2b2" stroke-width="0.6"/><line x1="339.2" y1="448.51" x2="337.7" y2="448.51" stroke="#b2b2b2" stroke-width="0.6"/><text x="199.2" y="451.36" font-size="8.5" font-weight="bold" fill="#000" text-anchor="end">-20</text><line x1="202.2" y1="431.21" x2="203.7" y2="431.21" stroke="#b2b2b2" stroke-width="0.6"/><line x1="339.2" y1="431.21" x2="337.7" y2="431.21" stroke="#b2b2b2" stroke-width="0.6"/><text x="199.2" y="434.06" font-size="8.5" font-weight="bold" fill="#000" text-anchor="end">0</text><line x1="202.2" y1="413.91" x2="203.7" y2="413.91" stroke="#b2b2b2" stroke-width="0.6"/><line x1="339.2" y1="413.91" x2="337.7" y2="413.91" stroke="#b2b2b2" stroke-width="0.6"/><text x="199.2" y="416.76" font-size="8.5" font-weight="bold" fill="#000" text-anchor="end">20</text><line x1="202.2" y1="396.6" x2="203.7" y2="396.6" stroke="#b2b2b2" stroke-width="0.6"/><line x1="339.2" y1="396.6" x2="337.7" y2="396.6" stroke="#b2b2b2" stroke-width="0.6"/><text x="199.2" y="399.45" font-size="8.5" font-weight="bold" fill="#000" text-anchor="end">40</text><line x1="202.2" y1="379.3" x2="203.7" y2="379.3" stroke="#b2b2b2" stroke-width="0.6"/><line x1="339.2" y1="379.3" x2="337.7" y2="379.3" stroke="#b2b2b2" stroke-width="0.6"/><text x="199.2" y="382.15" font-size="8.5" font-weight="bold" fill="#000" text-anchor="end">60</text><line x1="202.2" y1="362.0" x2="203.7" y2="362.0" stroke="#b2b2b2" stroke-width="0.6"/><line x1="339.2" y1="362.0" x2="337.7" y2="362.0" stroke="#b2b2b2" stroke-width="0.6"/><text x="199.2" y="364.85" font-size="8.5" font-weight="bold" fill="#000" text-anchor="end">80</text>
<text x="267.2" y="375.90000000000003" font-size="9.5" font-weight="bold" fill="#000" text-anchor="middle">157 nm</text><line x1="247.9" y1="372.8" x2="251.8" y2="372.8" stroke="#222" stroke-width="0.9"/><path d="M246.9 372.8 l3.4 -1.9 l0 3.8 Z" fill="#222"/><line x1="286.5" y1="372.8" x2="282.6" y2="372.8" stroke="#222" stroke-width="0.9"/><path d="M287.5 372.8 l-3.4 -1.9 l0 3.8 Z" fill="#222"/>
<line x1="297.7" y1="370.3" x2="311.5" y2="370.3" stroke="#111" stroke-width="1.05"/><circle cx="304.6" cy="370.3" r="1.8" fill="#111"/><text x="312.9" y="372.90000000000003" font-size="7.6" font-weight="bold" fill="#000" text-anchor="start">AFM</text><line x1="297.7" y1="379.2" x2="311.5" y2="379.2" stroke="#e8141c" stroke-width="1.05"/><circle cx="304.6" cy="379.2" r="1.7" fill="#e8141c" stroke="#e8141c" stroke-width="0.9"/><text x="312.9" y="381.8" font-size="7.6" font-weight="bold" fill="#000" text-anchor="start">SIP</text><line x1="297.7" y1="387.8" x2="311.5" y2="387.8" stroke="#1414e6" stroke-width="1.2" stroke-dasharray="3.2 2.6"/><circle cx="304.6" cy="387.8" r="1.25" fill="#1414e6"/><text x="312.9" y="390.40000000000003" font-size="7.6" font-weight="bold" fill="#000" text-anchor="start">WF</text>
<text x="209.5" y="377.5" font-size="17.2" font-weight="normal" fill="#000" text-anchor="start" stroke="#000" stroke-width="0.25">(h)</text>
<text x="273.2" y="356.6" font-size="11.3" font-weight="bold" fill="#000" text-anchor="middle">Site B</text>
<text x="271" y="495.8" font-size="9.2" font-weight="bold" fill="#000" text-anchor="middle">x (nm)</text>
<text transform="translate(184.7 418) rotate(-90)" font-size="9.25" font-weight="bold" text-anchor="middle">Height (nm) or Gray value</text>
<line x1="408.37" y1="362" x2="408.37" y2="473.4" stroke="#e6e6e6" stroke-width="0.6"/><line x1="440.43" y1="362" x2="440.43" y2="473.4" stroke="#e6e6e6" stroke-width="0.6"/><line x1="472.5" y1="362" x2="472.5" y2="473.4" stroke="#e6e6e6" stroke-width="0.6"/><line x1="504.57" y1="362" x2="504.57" y2="473.4" stroke="#e6e6e6" stroke-width="0.6"/><line x1="376.3" y1="466.11" x2="511.3" y2="466.11" stroke="#e6e6e6" stroke-width="0.6"/><line x1="376.3" y1="431.41" x2="511.3" y2="431.41" stroke="#e6e6e6" stroke-width="0.6"/><line x1="376.3" y1="396.7" x2="511.3" y2="396.7" stroke="#e6e6e6" stroke-width="0.6"/>
<line x1="434.0" y1="362.0" x2="434.0" y2="398.8" stroke="#383838" stroke-width="1.1" stroke-dasharray="3 1.7"/>
<line x1="483.7" y1="362.0" x2="483.7" y2="383.5" stroke="#383838" stroke-width="1.1" stroke-dasharray="3 1.7"/>
<g clip-path="url(#ci)"><polyline points="384.3,412.7 393.9,409.2 403.6,407.1 413.2,405.0 422.8,407.1 432.4,409.9 442.0,416.1 450.7,416.8 459.7,417.5 468.7,417.5 477.3,412.7 486.0,410.6 494.9,407.8 503.9,411.3" fill="none" stroke="#1414e6" stroke-width="1.4" stroke-dasharray="3.2 2.6"/><circle cx="384.3" cy="412.7" r="1.4" fill="#1414e6"/><circle cx="393.9" cy="409.2" r="1.4" fill="#1414e6"/><circle cx="403.6" cy="407.1" r="1.4" fill="#1414e6"/><circle cx="413.2" cy="405.0" r="1.4" fill="#1414e6"/><circle cx="422.8" cy="407.1" r="1.4" fill="#1414e6"/><circle cx="432.4" cy="409.9" r="1.4" fill="#1414e6"/><circle cx="442.0" cy="416.1" r="1.4" fill="#1414e6"/><circle cx="450.7" cy="416.8" r="1.4" fill="#1414e6"/><circle cx="459.7" cy="417.5" r="1.4" fill="#1414e6"/><circle cx="468.7" cy="417.5" r="1.4" fill="#1414e6"/><circle cx="477.3" cy="412.7" r="1.4" fill="#1414e6"/><circle cx="486.0" cy="410.6" r="1.4" fill="#1414e6"/><circle cx="494.9" cy="407.8" r="1.4" fill="#1414e6"/><circle cx="503.9" cy="411.3" r="1.4" fill="#1414e6"/><polyline points="384.3,421.0 393.0,459.2 401.3,461.3 409.3,438.3 417.7,418.9 425.7,407.1 434.0,399.5 442.0,416.1 450.7,462.6 459.0,463.3 467.4,418.9 475.7,392.5 483.7,384.2 491.7,407.1 499.8,461.3 507.8,473.7 511.0,480.0" fill="none" stroke="#111" stroke-width="1.25" stroke-linejoin="round"/><rect x="382.6" y="419.3" width="3.4" height="3.4" fill="#111"/><rect x="391.3" y="457.5" width="3.4" height="3.4" fill="#111"/><rect x="399.6" y="459.6" width="3.4" height="3.4" fill="#111"/><rect x="407.6" y="436.6" width="3.4" height="3.4" fill="#111"/><rect x="416.0" y="417.2" width="3.4" height="3.4" fill="#111"/><rect x="424.0" y="405.4" width="3.4" height="3.4" fill="#111"/><rect x="432.3" y="397.8" width="3.4" height="3.4" fill="#111"/><rect x="440.3" y="414.4" width="3.4" height="3.4" fill="#111"/><rect x="449.0" y="460.9" width="3.4" height="3.4" fill="#111"/><rect x="457.3" y="461.6" width="3.4" height="3.4" fill="#111"/><rect x="465.7" y="417.2" width="3.4" height="3.4" fill="#111"/><rect x="474.0" y="390.8" width="3.4" height="3.4" fill="#111"/><rect x="482.0" y="382.5" width="3.4" height="3.4" fill="#111"/><rect x="490.0" y="405.4" width="3.4" height="3.4" fill="#111"/><rect x="498.1" y="459.6" width="3.4" height="3.4" fill="#111"/><rect x="506.1" y="472.0" width="3.4" height="3.4" fill="#111"/><rect x="509.3" y="478.3" width="3.4" height="3.4" fill="#111"/><polyline points="384.3,438.3 394.3,441.1 403.2,441.8 412.9,448.1 422.2,406.4 431.1,415.4 440.4,426.5 449.1,432.1 458.4,439.7 467.4,439.7 477.0,419.6 485.6,423.1 494.9,429.3 503.9,432.8" fill="none" stroke="#e8141c" stroke-width="1.25" stroke-linejoin="round"/><circle cx="384.3" cy="438.3" r="1.9" fill="none" stroke="#e8141c" stroke-width="1"/><circle cx="394.3" cy="441.1" r="1.9" fill="none" stroke="#e8141c" stroke-width="1"/><circle cx="403.2" cy="441.8" r="1.9" fill="none" stroke="#e8141c" stroke-width="1"/><circle cx="412.9" cy="448.1" r="1.9" fill="none" stroke="#e8141c" stroke-width="1"/><circle cx="422.2" cy="406.4" r="1.9" fill="none" stroke="#e8141c" stroke-width="1"/><circle cx="431.1" cy="415.4" r="1.9" fill="none" stroke="#e8141c" stroke-width="1"/><circle cx="440.4" cy="426.5" r="1.9" fill="none" stroke="#e8141c" stroke-width="1"/><circle cx="449.1" cy="432.1" r="1.9" fill="none" stroke="#e8141c" stroke-width="1"/><circle cx="458.4" cy="439.7" r="1.9" fill="none" stroke="#e8141c" stroke-width="1"/><circle cx="467.4" cy="439.7" r="1.9" fill="none" stroke="#e8141c" stroke-width="1"/><circle cx="477.0" cy="419.6" r="1.9" fill="none" stroke="#e8141c" stroke-width="1"/><circle cx="485.6" cy="423.1" r="1.9" fill="none" stroke="#e8141c" stroke-width="1"/><circle cx="494.9" cy="429.3" r="1.9" fill="none" stroke="#e8141c" stroke-width="1"/><circle cx="503.9" cy="432.8" r="1.9" fill="none" stroke="#e8141c" stroke-width="1"/></g>
<rect x="376.3" y="362" width="135.0" height="111.39999999999998" fill="none" stroke="#b2b2b2" stroke-width="0.9"/><line x1="376.3" y1="473.4" x2="376.3" y2="471.9" stroke="#b2b2b2" stroke-width="0.6"/><line x1="376.3" y1="362" x2="376.3" y2="363.5" stroke="#b2b2b2" stroke-width="0.6"/><text x="376.3" y="484.0" font-size="8.5" font-weight="bold" fill="#000" text-anchor="middle">0</text><line x1="408.37" y1="473.4" x2="408.37" y2="471.9" stroke="#b2b2b2" stroke-width="0.6"/><line x1="408.37" y1="362" x2="408.37" y2="363.5" stroke="#b2b2b2" stroke-width="0.6"/><text x="408.37" y="484.0" font-size="8.5" font-weight="bold" fill="#000" text-anchor="middle">100</text><line x1="440.43" y1="473.4" x2="440.43" y2="471.9" stroke="#b2b2b2" stroke-width="0.6"/><line x1="440.43" y1="362" x2="440.43" y2="363.5" stroke="#b2b2b2" stroke-width="0.6"/><text x="440.43" y="484.0" font-size="8.5" font-weight="bold" fill="#000" text-anchor="middle">200</text><line x1="472.5" y1="473.4" x2="472.5" y2="471.9" stroke="#b2b2b2" stroke-width="0.6"/><line x1="472.5" y1="362" x2="472.5" y2="363.5" stroke="#b2b2b2" stroke-width="0.6"/><text x="472.5" y="484.0" font-size="8.5" font-weight="bold" fill="#000" text-anchor="middle">300</text><line x1="504.57" y1="473.4" x2="504.57" y2="471.9" stroke="#b2b2b2" stroke-width="0.6"/><line x1="504.57" y1="362" x2="504.57" y2="363.5" stroke="#b2b2b2" stroke-width="0.6"/><text x="504.57" y="484.0" font-size="8.5" font-weight="bold" fill="#000" text-anchor="middle">400</text><line x1="376.3" y1="466.11" x2="377.8" y2="466.11" stroke="#b2b2b2" stroke-width="0.6"/><line x1="511.3" y1="466.11" x2="509.8" y2="466.11" stroke="#b2b2b2" stroke-width="0.6"/><text x="373.3" y="468.96" font-size="8.5" font-weight="bold" fill="#000" text-anchor="end">-50</text><line x1="376.3" y1="431.41" x2="377.8" y2="431.41" stroke="#b2b2b2" stroke-width="0.6"/><line x1="511.3" y1="431.41" x2="509.8" y2="431.41" stroke="#b2b2b2" stroke-width="0.6"/><text x="373.3" y="434.26" font-size="8.5" font-weight="bold" fill="#000" text-anchor="end">0</text><line x1="376.3" y1="396.7" x2="377.8" y2="396.7" stroke="#b2b2b2" stroke-width="0.6"/><line x1="511.3" y1="396.7" x2="509.8" y2="396.7" stroke="#b2b2b2" stroke-width="0.6"/><text x="373.3" y="399.55" font-size="8.5" font-weight="bold" fill="#000" text-anchor="end">50</text><line x1="376.3" y1="362.0" x2="377.8" y2="362.0" stroke="#b2b2b2" stroke-width="0.6"/><line x1="511.3" y1="362.0" x2="509.8" y2="362.0" stroke="#b2b2b2" stroke-width="0.6"/><text x="373.3" y="364.85" font-size="8.5" font-weight="bold" fill="#000" text-anchor="end">100</text>
<text x="458.9" y="375.90000000000003" font-size="9.5" font-weight="bold" fill="#000" text-anchor="middle">157 nm</text><line x1="435.9" y1="372.8" x2="441.5" y2="372.8" stroke="#222" stroke-width="0.9"/><path d="M434.9 372.8 l3.4 -1.9 l0 3.8 Z" fill="#222"/><line x1="481.8" y1="372.8" x2="476.2" y2="372.8" stroke="#222" stroke-width="0.9"/><path d="M482.8 372.8 l-3.4 -1.9 l0 3.8 Z" fill="#222"/>
<line x1="384" y1="369.3" x2="398" y2="369.3" stroke="#111" stroke-width="1.05"/><circle cx="391.0" cy="369.3" r="1.8" fill="#111"/><text x="399.8" y="371.90000000000003" font-size="7.6" font-weight="bold" fill="#000" text-anchor="start">AFM</text><line x1="384" y1="378.2" x2="398" y2="378.2" stroke="#e8141c" stroke-width="1.05"/><circle cx="391.0" cy="378.2" r="1.7" fill="#fff" stroke="#e8141c" stroke-width="0.9"/><text x="399.8" y="380.8" font-size="7.6" font-weight="bold" fill="#000" text-anchor="start">SIP</text><line x1="384" y1="387" x2="398" y2="387" stroke="#1414e6" stroke-width="1.2" stroke-dasharray="3.2 2.6"/><circle cx="391.0" cy="387" r="1.25" fill="#1414e6"/><text x="399.8" y="389.6" font-size="7.6" font-weight="bold" fill="#000" text-anchor="start">WF</text>
<text x="493" y="380" font-size="17.2" font-weight="normal" fill="#000" text-anchor="start" stroke="#000" stroke-width="0.25">(i)</text>
<text x="443" y="356.6" font-size="11.3" font-weight="bold" fill="#000" text-anchor="middle">Site C</text>
<text x="444" y="495.8" font-size="9.2" font-weight="bold" fill="#000" text-anchor="middle">x (nm)</text>
<text transform="translate(357.1 418) rotate(-90)" font-size="9.25" font-weight="bold" text-anchor="middle">Height (nm) or Gray value</text>
<line x1="239.4" y1="522.3" x2="239.4" y2="635.7" stroke="#e6e6e6" stroke-width="0.6"/><line x1="273.0" y1="522.3" x2="273.0" y2="635.7" stroke="#e6e6e6" stroke-width="0.6"/><line x1="306.6" y1="522.3" x2="306.6" y2="635.7" stroke="#e6e6e6" stroke-width="0.6"/><line x1="205.8" y1="607.35" x2="340.2" y2="607.35" stroke="#e6e6e6" stroke-width="0.6"/><line x1="205.8" y1="579.0" x2="340.2" y2="579.0" stroke="#e6e6e6" stroke-width="0.6"/><line x1="205.8" y1="550.65" x2="340.2" y2="550.65" stroke="#e6e6e6" stroke-width="0.6"/>
<g clip-path="url(#ck)"><polyline points="205.8,550.9 206.3,552.1 206.8,550.8 207.3,551.2 207.8,550.0 208.3,549.9 208.8,549.2 209.3,546.8 209.8,545.8 210.4,543.9 210.9,543.8 211.4,546.9 211.9,550.9 212.4,552.0 212.9,554.4 213.4,553.6 213.9,550.7 214.4,549.0 214.9,548.1 215.4,548.3 215.9,547.4 216.4,549.4 216.9,549.7 217.4,550.4 217.9,551.6 218.4,556.1 219.0,558.9 219.5,557.5 220.0,558.2 220.5,553.5 221.0,548.4 221.5,544.1 222.0,545.1 222.5,546.5 223.0,545.4 223.5,547.1 224.0,547.8 224.5,548.4 225.0,550.4 225.5,552.7 226.0,554.8 226.5,553.5 227.0,551.2 227.6,549.1 228.1,547.0 228.6,545.8 229.1,547.8 229.6,551.9 230.1,554.2 230.6,554.7 231.1,555.9 231.6,555.9 232.1,555.4 232.6,555.2 233.1,554.0 233.6,552.5 234.1,546.2 234.6,543.5 235.1,542.4 235.7,541.9 236.2,545.3 236.7,549.1 237.2,551.2 237.7,551.6 238.2,552.6 238.7,551.4 239.2,550.8 239.7,553.0 240.2,552.2 240.7,550.0 241.2,549.9 241.7,547.8 242.2,547.5 242.7,550.3 243.2,554.3 243.7,558.8 244.3,556.6 244.8,556.1 245.3,552.9 245.8,550.0 246.3,549.2 246.8,547.7 247.3,546.5 247.8,543.2 248.3,544.2 248.8,544.1 249.3,545.8 249.8,547.8 250.3,549.4 250.8,548.3 251.3,545.4 251.8,542.3 252.3,537.8 252.9,538.9 253.4,541.8 253.9,546.6 254.4,549.7 254.9,556.9 255.4,567.5 255.9,576.6 256.4,587.3 256.9,597.7 257.4,607.3 257.9,617.3 258.4,615.7 258.9,613.6 259.4,610.2 259.9,608.0 260.4,606.4 260.9,607.9 261.5,607.3 262.0,608.0 262.5,607.0 263.0,608.7 263.5,610.5 264.0,612.4 264.5,614.8 265.0,612.1 265.5,607.7 266.0,605.4 266.5,602.0 267.0,603.5 267.5,607.6 268.0,609.7 268.5,613.0 269.0,612.8 269.5,612.3 270.1,610.2 270.6,611.1 271.1,606.2 271.6,604.8 272.1,603.0 272.6,599.8 273.1,596.5 273.6,596.2 274.1,599.8 274.6,605.2 275.1,612.4 275.6,614.8 276.1,613.2 276.6,612.9 277.1,612.9 277.6,611.3 278.2,611.1 278.7,609.5 279.2,605.7 279.7,604.8 280.2,602.8 280.7,605.0 281.2,609.8 281.7,612.8 282.2,612.2 282.7,613.9 283.2,610.6 283.7,604.2 284.2,601.7 284.7,600.1 285.2,598.7 285.7,601.8 286.2,600.4 286.8,602.5 287.3,605.0 287.8,608.4 288.3,611.5 288.8,616.5 289.3,619.2 289.8,616.5 290.3,610.1 290.8,606.4 291.3,605.8 291.8,602.4 292.3,605.9 292.8,607.8 293.3,607.4 293.8,606.7 294.3,606.7 294.8,608.6 295.4,611.4 295.9,611.6 296.4,610.1 296.9,604.5 297.4,600.1 297.9,596.1 298.4,596.9 298.9,598.2 299.4,601.1 299.9,603.1 300.4,603.4 300.9,602.9 301.4,603.3 301.9,603.2 302.4,605.6 302.9,607.9 303.4,605.4 304.0,603.1 304.5,599.6 305.0,600.4 305.5,602.3 306.0,606.4 306.5,609.1 307.0,610.5 307.5,610.4 308.0,609.0 308.5,606.5 309.0,605.7 309.5,604.6 310.0,604.2 310.5,601.1 311.0,600.2 311.5,599.8 312.0,601.4 312.6,604.7 313.1,611.4 313.6,616.5 314.1,617.9 314.6,615.4 315.1,612.2 315.6,609.9 316.1,609.9 316.6,609.4 317.1,610.2 317.6,610.7 318.1,612.4 318.6,614.0 319.1,618.8 319.6,621.0 320.1,620.8 320.6,620.3 321.2,614.5 321.7,610.1 322.2,604.1 322.7,600.5 323.2,601.5 323.7,602.7 324.2,601.7 324.7,606.1 325.2,607.9 325.7,610.4 326.2,613.5 326.7,617.1 327.2,618.1 327.7,617.1 328.2,614.2 328.7,609.1 329.3,606.0 329.8,604.6 330.3,605.0 330.8,606.0 331.3,608.5 331.8,609.1 332.3,609.7 332.8,611.7 333.3,611.2 333.8,614.6 334.3,614.2 334.8,611.3 335.3,605.9 335.8,603.3 336.3,602.6 336.8,603.5" fill="none" stroke="#1a1a1a" stroke-width="1.25" stroke-dasharray="1.2 2.1"/><polyline points="205.8,550.6 253.7,550.6 254.5,552.4 255.5,567.7 256.7,593.2 257.7,605.1 258.7,607.4 336.8,607.4" fill="none" stroke="#ee1111" stroke-width="1.7" stroke-linejoin="round"/></g>
<rect x="205.8" y="522.3" width="134.39999999999998" height="113.40000000000009" fill="none" stroke="#b2b2b2" stroke-width="0.9"/><line x1="205.8" y1="635.7" x2="205.8" y2="634.2" stroke="#b2b2b2" stroke-width="0.6"/><line x1="205.8" y1="522.3" x2="205.8" y2="523.8" stroke="#b2b2b2" stroke-width="0.6"/><text x="205.8" y="646.3" font-size="8.5" font-weight="bold" fill="#000" text-anchor="middle">0</text><line x1="239.4" y1="635.7" x2="239.4" y2="634.2" stroke="#b2b2b2" stroke-width="0.6"/><line x1="239.4" y1="522.3" x2="239.4" y2="523.8" stroke="#b2b2b2" stroke-width="0.6"/><text x="239.4" y="646.3" font-size="8.5" font-weight="bold" fill="#000" text-anchor="middle">2000</text><line x1="273.0" y1="635.7" x2="273.0" y2="634.2" stroke="#b2b2b2" stroke-width="0.6"/><line x1="273.0" y1="522.3" x2="273.0" y2="523.8" stroke="#b2b2b2" stroke-width="0.6"/><text x="273.0" y="646.3" font-size="8.5" font-weight="bold" fill="#000" text-anchor="middle">4000</text><line x1="306.6" y1="635.7" x2="306.6" y2="634.2" stroke="#b2b2b2" stroke-width="0.6"/><line x1="306.6" y1="522.3" x2="306.6" y2="523.8" stroke="#b2b2b2" stroke-width="0.6"/><text x="306.6" y="646.3" font-size="8.5" font-weight="bold" fill="#000" text-anchor="middle">6000</text><line x1="340.2" y1="635.7" x2="340.2" y2="634.2" stroke="#b2b2b2" stroke-width="0.6"/><line x1="340.2" y1="522.3" x2="340.2" y2="523.8" stroke="#b2b2b2" stroke-width="0.6"/><text x="340.2" y="646.3" font-size="8.5" font-weight="bold" fill="#000" text-anchor="middle">8000</text><line x1="205.8" y1="635.7" x2="207.3" y2="635.7" stroke="#b2b2b2" stroke-width="0.6"/><line x1="340.2" y1="635.7" x2="338.7" y2="635.7" stroke="#b2b2b2" stroke-width="0.6"/><text x="200.8" y="638.55" font-size="8.5" font-weight="bold" fill="#000" text-anchor="end">-0.5</text><line x1="205.8" y1="607.35" x2="207.3" y2="607.35" stroke="#b2b2b2" stroke-width="0.6"/><line x1="340.2" y1="607.35" x2="338.7" y2="607.35" stroke="#b2b2b2" stroke-width="0.6"/><text x="200.8" y="610.2" font-size="8.5" font-weight="bold" fill="#000" text-anchor="end">0</text><line x1="205.8" y1="579.0" x2="207.3" y2="579.0" stroke="#b2b2b2" stroke-width="0.6"/><line x1="340.2" y1="579.0" x2="338.7" y2="579.0" stroke="#b2b2b2" stroke-width="0.6"/><text x="200.8" y="581.85" font-size="8.5" font-weight="bold" fill="#000" text-anchor="end">0.5</text><line x1="205.8" y1="550.65" x2="207.3" y2="550.65" stroke="#b2b2b2" stroke-width="0.6"/><line x1="340.2" y1="550.65" x2="338.7" y2="550.65" stroke="#b2b2b2" stroke-width="0.6"/><text x="200.8" y="553.5" font-size="8.5" font-weight="bold" fill="#000" text-anchor="end">1</text><line x1="205.8" y1="522.3" x2="207.3" y2="522.3" stroke="#b2b2b2" stroke-width="0.6"/><line x1="340.2" y1="522.3" x2="338.7" y2="522.3" stroke="#b2b2b2" stroke-width="0.6"/><text x="200.8" y="525.15" font-size="8.5" font-weight="bold" fill="#000" text-anchor="end">1.5</text>
<text x="317" y="542.5" font-size="17.2" font-weight="normal" fill="#000" text-anchor="start" stroke="#000" stroke-width="0.25">(k)</text>
<text x="273" y="657.8" font-size="9.2" font-weight="bold" fill="#000" text-anchor="middle">x (nm)</text>
<text transform="translate(185.7 579.3) rotate(-90)" font-size="9.45" font-weight="bold" text-anchor="middle">Normalized Height (a.u.)</text>
<line x1="404.62" y1="521.8" x2="404.62" y2="636" stroke="#e6e6e6" stroke-width="0.6"/><line x1="431.34" y1="521.8" x2="431.34" y2="636" stroke="#e6e6e6" stroke-width="0.6"/><line x1="458.06" y1="521.8" x2="458.06" y2="636" stroke="#e6e6e6" stroke-width="0.6"/><line x1="484.78" y1="521.8" x2="484.78" y2="636" stroke="#e6e6e6" stroke-width="0.6"/><line x1="377.9" y1="613.16" x2="511.5" y2="613.16" stroke="#e6e6e6" stroke-width="0.6"/><line x1="377.9" y1="590.32" x2="511.5" y2="590.32" stroke="#e6e6e6" stroke-width="0.6"/><line x1="377.9" y1="567.48" x2="511.5" y2="567.48" stroke="#e6e6e6" stroke-width="0.6"/><line x1="377.9" y1="544.64" x2="511.5" y2="544.64" stroke="#e6e6e6" stroke-width="0.6"/>
<g clip-path="url(#cl)"><line x1="377.9" y1="632.6" x2="511.5" y2="632.6" stroke="#e8141c" stroke-width="1" stroke-dasharray="3.6 2.8"/><polyline points="377.9,521.8 379.2,521.9 380.6,522.2 381.9,522.6 383.2,523.2 384.6,524.0 385.9,524.9 387.3,526.0 388.6,527.3 389.9,528.7 391.3,530.3 392.6,532.0 393.9,533.8 395.3,535.8 396.6,537.8 397.9,540.0 399.3,542.3 400.6,544.6 401.9,547.1 403.3,549.6 404.6,552.1 406.0,554.7 407.3,557.4 408.6,560.1 410.0,562.8 411.3,565.5 412.6,568.2 414.0,570.9 415.3,573.6 416.6,576.3 418.0,579.0 419.3,581.6 420.7,584.2 422.0,586.7 423.3,589.2 424.7,591.6 426.0,594.0 427.3,596.3 428.7,598.5 430.0,600.7 431.3,602.8 432.7,604.8 434.0,606.7 435.3,608.6 436.7,610.4 438.0,612.1 439.4,613.7 440.7,615.2 442.0,616.7 443.4,618.1 444.7,619.4 446.0,620.7 447.4,621.8 448.7,622.9 450.0,624.0 451.4,624.9 452.7,625.8 454.1,626.7 455.4,627.5 456.7,628.2 458.1,628.9 459.4,629.5 460.7,630.1 462.1,630.7 463.4,631.2 464.7,631.6 466.1,632.0 467.4,632.4 468.7,632.8 470.1,633.1 471.4,633.4 472.8,633.7 474.1,633.9 475.4,634.1 476.8,634.3 478.1,634.5 479.4,634.7 480.8,634.8 482.1,635.0 483.4,635.1 484.8,635.2 486.1,635.3 487.5,635.4 488.8,635.4 490.1,635.5 491.5,635.6 492.8,635.6 494.1,635.7 495.5,635.7 496.8,635.7 498.1,635.8 499.5,635.8 500.8,635.8 502.1,635.9 503.5,635.9 504.8,635.9 506.2,635.9 507.5,635.9 508.8,635.9 510.2,635.9 511.5,635.9" fill="none" stroke="#111" stroke-width="1.2"/></g>
<rect x="377.9" y="521.8" width="133.60000000000002" height="114.20000000000005" fill="none" stroke="#b2b2b2" stroke-width="0.9"/><line x1="377.9" y1="636" x2="377.9" y2="634.5" stroke="#b2b2b2" stroke-width="0.6"/><line x1="377.9" y1="521.8" x2="377.9" y2="523.3" stroke="#b2b2b2" stroke-width="0.6"/><text x="377.9" y="646.6" font-size="8.5" font-weight="bold" fill="#000" text-anchor="middle">0</text><line x1="404.62" y1="636" x2="404.62" y2="634.5" stroke="#b2b2b2" stroke-width="0.6"/><line x1="404.62" y1="521.8" x2="404.62" y2="523.3" stroke="#b2b2b2" stroke-width="0.6"/><text x="404.62" y="646.6" font-size="8.5" font-weight="bold" fill="#000" text-anchor="middle">0.002</text><line x1="431.34" y1="636" x2="431.34" y2="634.5" stroke="#b2b2b2" stroke-width="0.6"/><line x1="431.34" y1="521.8" x2="431.34" y2="523.3" stroke="#b2b2b2" stroke-width="0.6"/><text x="431.34" y="646.6" font-size="8.5" font-weight="bold" fill="#000" text-anchor="middle">0.004</text><line x1="458.06" y1="636" x2="458.06" y2="634.5" stroke="#b2b2b2" stroke-width="0.6"/><line x1="458.06" y1="521.8" x2="458.06" y2="523.3" stroke="#b2b2b2" stroke-width="0.6"/><text x="458.06" y="646.6" font-size="8.5" font-weight="bold" fill="#000" text-anchor="middle">0.006</text><line x1="484.78" y1="636" x2="484.78" y2="634.5" stroke="#b2b2b2" stroke-width="0.6"/><line x1="484.78" y1="521.8" x2="484.78" y2="523.3" stroke="#b2b2b2" stroke-width="0.6"/><text x="484.78" y="646.6" font-size="8.5" font-weight="bold" fill="#000" text-anchor="middle">0.008</text><line x1="511.5" y1="636" x2="511.5" y2="634.5" stroke="#b2b2b2" stroke-width="0.6"/><line x1="511.5" y1="521.8" x2="511.5" y2="523.3" stroke="#b2b2b2" stroke-width="0.6"/><text x="511.5" y="646.6" font-size="8.5" font-weight="bold" fill="#000" text-anchor="middle">0.01</text><line x1="377.9" y1="636.0" x2="379.4" y2="636.0" stroke="#b2b2b2" stroke-width="0.6"/><line x1="511.5" y1="636.0" x2="510.0" y2="636.0" stroke="#b2b2b2" stroke-width="0.6"/><text x="374.9" y="638.85" font-size="8.5" font-weight="bold" fill="#000" text-anchor="end">0</text><line x1="377.9" y1="613.16" x2="379.4" y2="613.16" stroke="#b2b2b2" stroke-width="0.6"/><line x1="511.5" y1="613.16" x2="510.0" y2="613.16" stroke="#b2b2b2" stroke-width="0.6"/><text x="374.9" y="616.01" font-size="8.5" font-weight="bold" fill="#000" text-anchor="end">0.2</text><line x1="377.9" y1="590.32" x2="379.4" y2="590.32" stroke="#b2b2b2" stroke-width="0.6"/><line x1="511.5" y1="590.32" x2="510.0" y2="590.32" stroke="#b2b2b2" stroke-width="0.6"/><text x="374.9" y="593.17" font-size="8.5" font-weight="bold" fill="#000" text-anchor="end">0.4</text><line x1="377.9" y1="567.48" x2="379.4" y2="567.48" stroke="#b2b2b2" stroke-width="0.6"/><line x1="511.5" y1="567.48" x2="510.0" y2="567.48" stroke="#b2b2b2" stroke-width="0.6"/><text x="374.9" y="570.33" font-size="8.5" font-weight="bold" fill="#000" text-anchor="end">0.6</text><line x1="377.9" y1="544.64" x2="379.4" y2="544.64" stroke="#b2b2b2" stroke-width="0.6"/><line x1="511.5" y1="544.64" x2="510.0" y2="544.64" stroke="#b2b2b2" stroke-width="0.6"/><text x="374.9" y="547.49" font-size="8.5" font-weight="bold" fill="#000" text-anchor="end">0.8</text><line x1="377.9" y1="521.8" x2="379.4" y2="521.8" stroke="#b2b2b2" stroke-width="0.6"/><line x1="511.5" y1="521.8" x2="510.0" y2="521.8" stroke="#b2b2b2" stroke-width="0.6"/><text x="374.9" y="524.65" font-size="8.5" font-weight="bold" fill="#000" text-anchor="end">1</text>
<rect x="437.8" y="525.4" width="70.9" height="18.6" fill="#fff" stroke="#777" stroke-width="0.6"/>
<line x1="439.6" y1="531" x2="453.4" y2="531" stroke="#111" stroke-width="1.2"/><line x1="439.6" y1="539.4" x2="453.4" y2="539.4" stroke="#e8141c" stroke-width="1" stroke-dasharray="3.6 2.8"/>
<text x="455.6" y="533.6" font-size="7.76" font-weight="bold" fill="#000" text-anchor="start">measured MTF</text>
<text x="455.6" y="542" font-size="7.5" font-weight="bold" fill="#000" text-anchor="start">Threshold 3%</text>
<text x="408" y="542.5" font-size="17.2" font-weight="normal" fill="#000" text-anchor="start" stroke="#000" stroke-width="0.25">(l)</text>
<text x="444.3" y="657.8" font-size="9.7" font-weight="bold" fill="#000" text-anchor="middle">f (1/nm)</text>
<text transform="translate(360.8 578.7) rotate(-90)" font-size="9.1" font-weight="bold" text-anchor="middle">MTF</text>
<text x="481" y="612.4" font-size="12.9" font-weight="bold" fill="#e8141c" text-anchor="middle">160 nm</text>
<line x1="471.5" y1="616.6" x2="467.2" y2="629" stroke="#e8141c" stroke-width="0.9"/><path d="M466.6 630.8 L465.6 626.6 L469.6 628 Z" fill="#e8141c" stroke="#e8141c" stroke-width="0.5"/>
</svg></body></html>
